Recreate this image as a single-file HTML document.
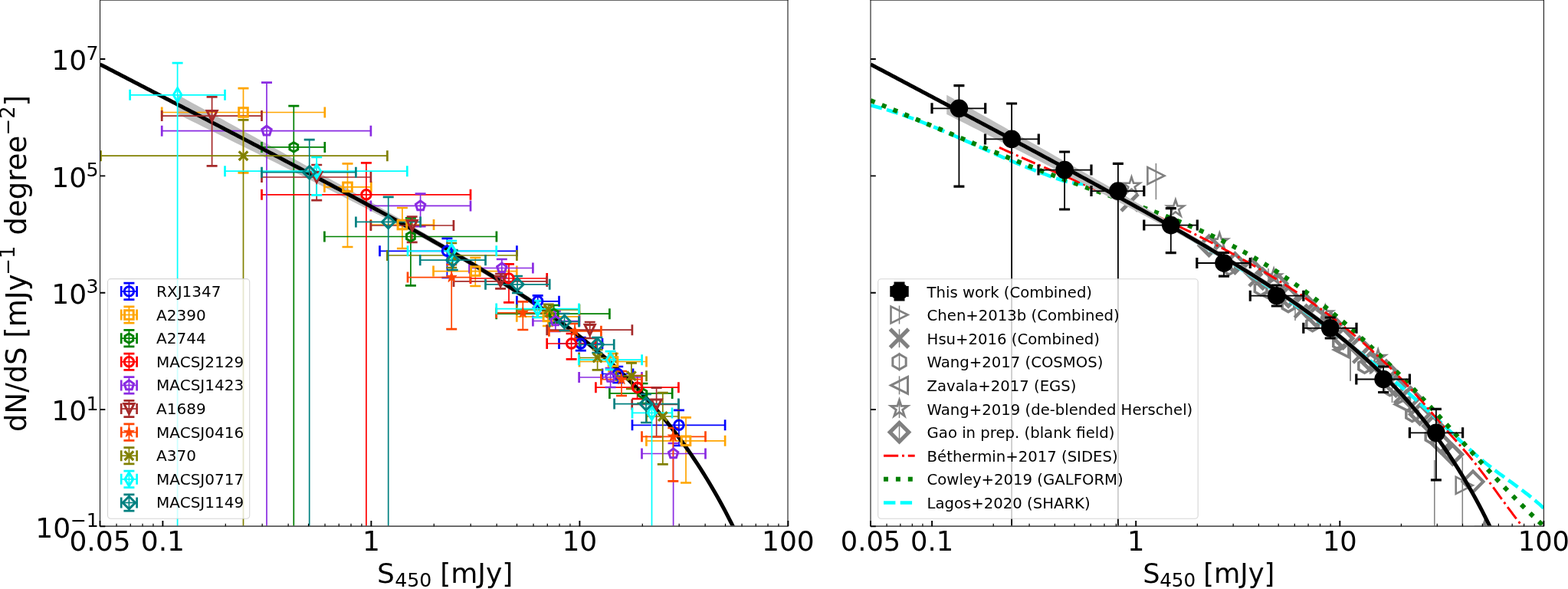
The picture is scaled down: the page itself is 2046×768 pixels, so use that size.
<!DOCTYPE html>
<html><head><meta charset="utf-8"><style>html,body{margin:0;padding:0;background:#fff;}svg{display:block}</style></head>
<body>
<svg width="2046" height="768" viewBox="0 0 2046 768" font-family="DejaVu Sans, Liberation Sans, sans-serif">
<rect width="2046" height="768" fill="#fff"/>
<defs><clipPath id="cl"><rect x="130.5" y="0.5" width="897.9" height="685"/></clipPath><clipPath id="cr"><rect x="1136" y="0.5" width="878.4" height="685"/></clipPath></defs>
<g clip-path="url(#cl)">
<path d="M231.93,123.78 L240.31,128.36 L248.69,132.93 L257.07,137.51 L265.44,142.1 L273.82,146.68 L282.2,151.27 L290.58,155.86 L298.95,160.46 L307.33,165.06 L315.71,169.66 L324.09,174.26 L332.47,178.87 L340.84,183.49 L349.22,188.11 L357.6,192.73 L365.98,197.36 L374.36,202 L382.73,206.64 L391.11,211.29 L399.49,215.94 L407.87,220.61 L416.24,225.28 L424.62,229.96 L433,234.66 L441.38,239.36 L449.76,244.07 L458.13,248.8 L466.51,253.54 L474.89,258.29 L483.27,263.06 L491.64,267.85 L500.02,272.65 L508.4,277.47 L516.78,282.31 L525.16,287.17 L533.53,292.06 L541.91,296.97 L550.29,301.91 L558.67,306.78 L567.05,311.55 L575.42,316.35 L583.8,321.19 L592.18,326.06 L600.56,330.98 L608.93,335.94 L617.31,340.94 L625.69,346 L634.07,351.11 L642.45,356.28 L650.82,361.51 L659.2,366.8 L667.58,372.17 L675.96,377.62 L684.34,383.15 L692.71,388.77 L701.09,394.48 L709.47,400.29 L717.85,406.22 L726.22,412.26 L734.6,418.43 L742.98,424.74 L751.36,431.19 L759.74,437.8 L768.11,444.58 L776.49,451.53 L784.87,458.68 L793.25,466.04 L801.62,473.63 L810,481.45 L818.38,489.53 L826.76,497.88 L835.14,506.53 L843.51,515.51 L851.89,524.82 L860.27,534.5 L868.65,544.57 L877.03,555.07 L885.4,566.02 L893.78,577.45 L893.78,585.05 L885.4,573.62 L877.03,562.67 L868.65,552.17 L860.27,542.1 L851.89,532.42 L843.51,523.11 L835.14,514.13 L826.76,505.48 L818.38,497.13 L810,489.05 L801.62,481.23 L793.25,473.64 L784.87,466.28 L776.49,459.13 L768.11,452.18 L759.74,445.4 L751.36,438.79 L742.98,432.34 L734.6,426.03 L726.22,419.86 L717.85,413.82 L709.47,407.89 L701.09,402.08 L692.71,396.37 L684.34,390.75 L675.96,385.22 L667.58,379.77 L659.2,374.4 L650.82,369.11 L642.45,363.88 L634.07,358.71 L625.69,353.6 L617.31,348.54 L608.93,343.54 L600.56,338.58 L592.18,333.66 L583.8,328.79 L575.42,323.95 L567.05,319.15 L558.67,314.38 L550.29,309.78 L541.91,305.3 L533.53,300.85 L525.16,296.42 L516.78,292.01 L508.4,287.63 L500.02,283.26 L491.64,278.92 L483.27,274.59 L474.89,270.27 L466.51,265.98 L458.13,261.69 L449.76,257.42 L441.38,253.16 L433,248.92 L424.62,244.68 L416.24,240.45 L407.87,236.24 L399.49,232.03 L391.11,227.83 L382.73,223.63 L374.36,219.45 L365.98,215.27 L357.6,211.09 L349.22,206.92 L340.84,202.76 L332.47,198.6 L324.09,194.45 L315.71,190.3 L307.33,186.15 L298.95,182.01 L290.58,177.87 L282.2,173.74 L273.82,169.6 L265.44,165.47 L257.07,161.35 L248.69,157.22 L240.31,153.1 L231.93,148.98 Z" fill="#bfbfbf"/>
<path d="M495.5,327.3 L674.4,327.3" stroke="#0000ff" stroke-width="1.7"/><path d="M583.4,310.9 L583.4,362" stroke="#0000ff" stroke-width="1.7"/><path d="M495.5,320.3 L495.5,334.3 M674.4,320.3 L674.4,334.3 M576.4,310.9 L590.4,310.9 M576.4,362 L590.4,362" stroke="#0000ff" stroke-width="2.7"/><path d="M674.4,392.8 L729.5,392.8" stroke="#0000ff" stroke-width="1.7"/><path d="M701.7,385.4 L701.7,401" stroke="#0000ff" stroke-width="1.7"/><path d="M674.4,385.8 L674.4,399.8 M729.5,385.8 L729.5,399.8 M694.7,385.4 L708.7,385.4 M694.7,401 L708.7,401" stroke="#0000ff" stroke-width="2.7"/><path d="M729.5,448 L786,448" stroke="#0000ff" stroke-width="1.7"/><path d="M757.8,440 L757.8,457.1" stroke="#0000ff" stroke-width="1.7"/><path d="M729.5,441 L729.5,455 M786,441 L786,455 M750.8,440 L764.8,440 M750.8,457.1 L764.8,457.1" stroke="#0000ff" stroke-width="2.7"/><path d="M786,487.5 L826,487.5" stroke="#0000ff" stroke-width="1.7"/><path d="M806.2,478 L806.2,499" stroke="#0000ff" stroke-width="1.7"/><path d="M786,480.5 L786,494.5 M826,480.5 L826,494.5 M799.2,478 L813.2,478 M799.2,499 L813.2,499" stroke="#0000ff" stroke-width="2.7"/><path d="M825,554.3 L946.1,554.3" stroke="#0000ff" stroke-width="1.7"/><path d="M885.9,534.8 L885.9,581" stroke="#0000ff" stroke-width="1.7"/><path d="M825,547.3 L825,561.3 M946.1,547.3 L946.1,561.3 M878.9,534.8 L892.9,534.8 M878.9,581 L892.9,581" stroke="#0000ff" stroke-width="2.7"/>
<path d="M211.2,146.5 L423.8,146.5" stroke="#ffa500" stroke-width="1.7"/><path d="M317.5,115.2 L317.5,225.4" stroke="#ffa500" stroke-width="1.7"/><path d="M211.2,139.5 L211.2,153.5 M423.8,139.5 L423.8,153.5 M310.5,115.2 L324.5,115.2 M310.5,225.4 L324.5,225.4" stroke="#ffa500" stroke-width="2.7"/><path d="M423.4,243.8 L484.3,243.8" stroke="#ffa500" stroke-width="1.7"/><path d="M453.5,213.4 L453.5,322" stroke="#ffa500" stroke-width="1.7"/><path d="M423.4,236.8 L423.4,250.8 M484.3,236.8 L484.3,250.8 M446.5,213.4 L460.5,213.4 M446.5,322 L460.5,322" stroke="#ffa500" stroke-width="2.7"/><path d="M483.9,293 L566,293" stroke="#ffa500" stroke-width="1.7"/><path d="M524.9,271 L524.9,324" stroke="#ffa500" stroke-width="1.7"/><path d="M483.9,286 L483.9,300 M566,286 L566,300 M517.9,271 L531.9,271 M517.9,324 L531.9,324" stroke="#ffa500" stroke-width="2.7"/><path d="M565.5,353.6 L674.3,353.6" stroke="#ffa500" stroke-width="1.7"/><path d="M620.3,336 L620.3,373" stroke="#ffa500" stroke-width="1.7"/><path d="M565.5,346.6 L565.5,360.6 M674.3,346.6 L674.3,360.6 M613.3,336 L627.3,336 M613.3,373 L627.3,373" stroke="#ffa500" stroke-width="2.7"/><path d="M674.3,412.8 L756,412.8" stroke="#ffa500" stroke-width="1.7"/><path d="M714.9,401 L714.9,425" stroke="#ffa500" stroke-width="1.7"/><path d="M674.3,405.8 L674.3,419.8 M756,405.8 L756,419.8 M707.9,401 L721.9,401 M707.9,425 L721.9,425" stroke="#ffa500" stroke-width="2.7"/><path d="M756,471.5 L843.5,471.5" stroke="#ffa500" stroke-width="1.7"/><path d="M800,461 L800,484" stroke="#ffa500" stroke-width="1.7"/><path d="M756,464.5 L756,478.5 M843.5,464.5 L843.5,478.5 M793,461 L807,461 M793,484 L807,484" stroke="#ffa500" stroke-width="2.7"/><path d="M843.4,574.8 L946.1,574.8" stroke="#ffa500" stroke-width="1.7"/><path d="M895,544.3 L895,629.5" stroke="#ffa500" stroke-width="1.7"/><path d="M843.4,567.8 L843.4,581.8 M946.1,567.8 L946.1,581.8 M888,544.3 L902,544.3 M888,629.5 L902,629.5" stroke="#ffa500" stroke-width="2.7"/>
<path d="M341.5,191.9 L423.8,191.9" stroke="#008000" stroke-width="1.7"/><path d="M383.3,138.1 L383.3,690" stroke="#008000" stroke-width="1.7"/><path d="M341.5,184.9 L341.5,198.9 M423.8,184.9 L423.8,198.9 M376.3,138.1 L390.3,138.1" stroke="#008000" stroke-width="2.7"/><path d="M423.4,308.5 L647.9,308.5" stroke="#008000" stroke-width="1.7"/><path d="M535.9,284.3 L535.9,372.3" stroke="#008000" stroke-width="1.7"/><path d="M423.4,301.5 L423.4,315.5 M647.9,301.5 L647.9,315.5 M528.9,284.3 L542.9,284.3 M528.9,372.3 L542.9,372.3" stroke="#008000" stroke-width="2.7"/><path d="M647.7,409.2 L795.4,409.2" stroke="#008000" stroke-width="1.7"/><path d="M722.7,398 L722.7,421" stroke="#008000" stroke-width="1.7"/><path d="M647.7,402.2 L647.7,416.2 M795.4,402.2 L795.4,416.2 M715.7,398 L729.7,398 M715.7,421 L729.7,421" stroke="#008000" stroke-width="2.7"/><path d="M795.4,512.9 L877.2,512.9" stroke="#008000" stroke-width="1.7"/><path d="M838.4,500 L838.4,526" stroke="#008000" stroke-width="1.7"/><path d="M795.4,505.9 L795.4,519.9 M877.2,505.9 L877.2,519.9 M831.4,500 L845.4,500 M831.4,526 L845.4,526" stroke="#008000" stroke-width="2.7"/>
<path d="M341.5,253.8 L614,253.8" stroke="#ff0000" stroke-width="1.7"/><path d="M477.9,212.3 L477.9,690" stroke="#ff0000" stroke-width="1.7"/><path d="M341.5,246.8 L341.5,260.8 M614,246.8 L614,260.8 M470.9,212.3 L484.9,212.3" stroke="#ff0000" stroke-width="2.7"/><path d="M614,363 L713.7,363" stroke="#ff0000" stroke-width="1.7"/><path d="M664,344.4 L664,394.3" stroke="#ff0000" stroke-width="1.7"/><path d="M614,356 L614,370 M713.7,356 L713.7,370 M657,344.4 L671,344.4 M657,394.3 L671,394.3" stroke="#ff0000" stroke-width="2.7"/><path d="M713.7,448 L777.4,448" stroke="#ff0000" stroke-width="1.7"/><path d="M745.6,435 L745.6,468.4" stroke="#ff0000" stroke-width="1.7"/><path d="M713.7,441 L713.7,455 M777.4,441 L777.4,455 M738.6,435 L752.6,435 M738.6,468.4 L752.6,468.4" stroke="#ff0000" stroke-width="2.7"/><path d="M777.4,505.2 L885.4,505.2" stroke="#ff0000" stroke-width="1.7"/><path d="M831.6,490 L831.6,520" stroke="#ff0000" stroke-width="1.7"/><path d="M777.4,498.2 L777.4,512.2 M885.4,498.2 L885.4,512.2 M824.6,490 L838.6,490 M824.6,520 L838.6,520" stroke="#ff0000" stroke-width="2.7"/>
<path d="M211.2,170.7 L483.9,170.7" stroke="#8a2be2" stroke-width="1.7"/><path d="M348,107.7 L348,690" stroke="#8a2be2" stroke-width="1.7"/><path d="M211.2,163.7 L211.2,177.7 M483.9,163.7 L483.9,177.7 M341,107.7 L355,107.7" stroke="#8a2be2" stroke-width="2.7"/><path d="M483.9,268.4 L614,268.4" stroke="#8a2be2" stroke-width="1.7"/><path d="M548.6,252.6 L548.6,295.2" stroke="#8a2be2" stroke-width="1.7"/><path d="M483.9,261.4 L483.9,275.4 M614,261.4 L614,275.4 M541.6,252.6 L555.6,252.6 M541.6,295.2 L555.6,295.2" stroke="#8a2be2" stroke-width="2.7"/><path d="M612.5,349.5 L695.4,349.5" stroke="#8a2be2" stroke-width="1.7"/><path d="M654.8,338 L654.8,362" stroke="#8a2be2" stroke-width="1.7"/><path d="M612.5,342.5 L612.5,356.5 M695.4,342.5 L695.4,356.5 M647.8,338 L661.8,338 M647.8,362 L661.8,362" stroke="#8a2be2" stroke-width="2.7"/><path d="M695.4,418.5 L756,418.5" stroke="#8a2be2" stroke-width="1.7"/><path d="M724.8,406 L724.8,432" stroke="#8a2be2" stroke-width="1.7"/><path d="M695.4,411.5 L695.4,425.5 M756,411.5 L756,425.5 M717.8,406 L731.8,406 M717.8,432 L731.8,432" stroke="#8a2be2" stroke-width="2.7"/><path d="M755.6,492 L837.5,492" stroke="#8a2be2" stroke-width="1.7"/><path d="M796.6,480 L796.6,505" stroke="#8a2be2" stroke-width="1.7"/><path d="M755.6,485 L755.6,499 M837.5,485 L837.5,499 M789.6,480 L803.6,480 M789.6,505 L803.6,505" stroke="#8a2be2" stroke-width="2.7"/><path d="M837.5,591.5 L920.5,591.5" stroke="#8a2be2" stroke-width="1.7"/><path d="M878.6,578 L878.6,690" stroke="#8a2be2" stroke-width="1.7"/><path d="M837.5,584.5 L837.5,598.5 M920.5,584.5 L920.5,598.5 M871.6,578 L885.6,578" stroke="#8a2be2" stroke-width="2.7"/>
<path d="M130.5,83.85 L134.6,85.97 L138.7,88.09 L142.8,90.21 L146.9,92.33 L151,94.45 L155.1,96.57 L159.2,98.7 L163.3,100.82 L167.4,102.94 L171.5,105.06 L175.6,107.18 L179.7,109.31 L183.8,111.43 L187.9,113.55 L192,115.68 L196.1,117.8 L200.2,119.92 L204.3,122.05 L208.4,124.17 L212.5,126.3 L216.6,128.42 L220.7,130.55 L224.8,132.68 L228.9,134.8 L233,136.93 L237.1,139.06 L241.2,141.19 L245.3,143.32 L249.4,145.45 L253.5,147.58 L257.6,149.71 L261.7,151.84 L265.8,153.97 L269.9,156.1 L274,158.24 L278.1,160.37 L282.2,162.5 L286.3,164.64 L290.4,166.77 L294.5,168.91 L298.6,171.05 L302.7,173.19 L306.8,175.32 L310.9,177.46 L315,179.61 L319.1,181.75 L323.2,183.89 L327.3,186.03 L331.4,188.18 L335.5,190.32 L339.6,192.47 L343.7,194.62 L347.8,196.77 L351.9,198.92 L356,201.07 L360.09,203.22 L364.19,205.38 L368.29,207.53 L372.39,209.69 L376.49,211.85 L380.59,214.01 L384.69,216.17 L388.79,218.33 L392.89,220.5 L396.99,222.67 L401.09,224.84 L405.19,227.01 L409.29,229.18 L413.39,231.35 L417.49,233.53 L421.59,235.71 L425.69,237.89 L429.79,240.08 L433.89,242.26 L437.99,244.45 L442.09,246.64 L446.19,248.84 L450.29,251.04 L454.39,253.24 L458.49,255.44 L462.59,257.65 L466.69,259.86 L470.79,262.07 L474.89,264.29 L478.99,266.51 L483.09,268.73 L487.19,270.96 L491.29,273.19 L495.39,275.42 L499.49,277.67 L503.59,279.91 L507.69,282.16 L511.79,284.41 L515.89,286.67 L519.99,288.94 L524.09,291.21 L528.19,293.48 L532.29,295.76 L536.39,298.05 L540.49,300.34 L544.59,302.64 L548.69,304.94 L552.79,307.26 L556.89,309.57 L560.99,311.9 L565.09,314.23 L569.19,316.58 L573.29,318.93 L577.39,321.28 L581.49,323.65 L585.59,326.03 L589.69,328.41 L593.79,330.8 L597.89,333.21 L601.99,335.62 L606.09,338.05 L610.19,340.48 L614.29,342.93 L618.39,345.39 L622.49,347.86 L626.59,350.34 L630.69,352.84 L634.79,355.35 L638.89,357.87 L642.99,360.41 L647.09,362.97 L651.19,365.54 L655.29,368.12 L659.39,370.72 L663.49,373.34 L667.59,375.98 L671.69,378.63 L675.79,381.31 L679.89,384 L683.99,386.72 L688.09,389.45 L692.19,392.21 L696.29,394.99 L700.39,397.79 L704.49,400.62 L708.59,403.48 L712.69,406.36 L716.79,409.26 L720.89,412.2 L724.99,415.16 L729.09,418.16 L733.19,421.18 L737.29,424.24 L741.39,427.33 L745.49,430.45 L749.59,433.61 L753.69,436.81 L757.79,440.05 L761.89,443.32 L765.99,446.64 L770.09,450 L774.19,453.4 L778.29,456.85 L782.39,460.34 L786.49,463.89 L790.59,467.48 L794.69,471.13 L798.79,474.83 L802.89,478.59 L806.99,482.4 L811.08,486.28 L815.18,490.21 L819.28,494.21 L823.38,498.28 L827.48,502.42 L831.58,506.63 L835.68,510.91 L839.78,515.27 L843.88,519.71 L847.98,524.23 L852.08,528.84 L856.18,533.53 L860.28,538.31 L864.38,543.19 L868.48,548.17 L872.58,553.25 L876.68,558.43 L880.78,563.72 L884.88,569.12 L888.98,574.64 L893.08,580.28 L897.18,586.05 L901.28,591.94 L905.38,597.97 L909.48,604.13 L913.58,610.44 L917.68,616.89 L921.78,623.5 L925.88,630.27 L929.98,637.2 L934.08,644.3 L938.18,651.58 L942.28,659.04 L946.38,666.69 L950.48,674.54 L954.58,682.58 L958.68,690.84 L962.78,699.31 L966.88,708.01" stroke="#000" stroke-width="5" fill="none"/>
<path d="M211.2,151.1 L341.5,151.1" stroke="#a52a2a" stroke-width="1.7"/><path d="M276.6,126.4 L276.6,216.3" stroke="#a52a2a" stroke-width="1.7"/><path d="M211.2,144.1 L211.2,158.1 M341.5,144.1 L341.5,158.1 M269.6,126.4 L283.6,126.4 M269.6,216.3 L283.6,216.3" stroke="#a52a2a" stroke-width="2.7"/><path d="M341.5,231 L483.9,231" stroke="#a52a2a" stroke-width="1.7"/><path d="M413.2,215 L413.2,261.1" stroke="#a52a2a" stroke-width="1.7"/><path d="M341.5,224 L341.5,238 M483.9,224 L483.9,238 M406.2,215 L420.2,215 M406.2,261.1 L420.2,261.1" stroke="#a52a2a" stroke-width="2.7"/><path d="M483.9,294 L591.9,294" stroke="#a52a2a" stroke-width="1.7"/><path d="M537.7,282.5 L537.7,315.8" stroke="#a52a2a" stroke-width="1.7"/><path d="M483.9,287 L483.9,301 M591.9,287 L591.9,301 M530.7,282.5 L544.7,282.5 M530.7,315.8 L544.7,315.8" stroke="#a52a2a" stroke-width="2.7"/><path d="M592,366.9 L713.7,366.9" stroke="#a52a2a" stroke-width="1.7"/><path d="M653.1,357 L653.1,376.3" stroke="#a52a2a" stroke-width="1.7"/><path d="M592,359.9 L592,373.9 M713.7,359.9 L713.7,373.9 M646.1,357 L660.1,357 M646.1,376.3 L660.1,376.3" stroke="#a52a2a" stroke-width="2.7"/><path d="M713.7,430.2 L824.9,430.2" stroke="#a52a2a" stroke-width="1.7"/><path d="M769.7,420 L769.7,441" stroke="#a52a2a" stroke-width="1.7"/><path d="M713.7,423.2 L713.7,437.2 M824.9,423.2 L824.9,437.2 M762.7,420 L776.7,420 M762.7,441 L776.7,441" stroke="#a52a2a" stroke-width="2.7"/><path d="M824.7,527.5 L885.4,527.5" stroke="#a52a2a" stroke-width="1.7"/><path d="M856.6,505.6 L856.6,569.5" stroke="#a52a2a" stroke-width="1.7"/><path d="M824.7,520.5 L824.7,534.5 M885.4,520.5 L885.4,534.5 M849.6,505.6 L863.6,505.6 M849.6,569.5 L863.6,569.5" stroke="#a52a2a" stroke-width="2.7"/>
<path d="M532,361.6 L613.8,361.6" stroke="#ff4500" stroke-width="1.7"/><path d="M589.2,345 L589.2,429.1" stroke="#ff4500" stroke-width="1.7"/><path d="M532,354.6 L532,368.6 M613.8,354.6 L613.8,368.6 M582.2,345 L596.2,345 M582.2,429.1 L596.2,429.1" stroke="#ff4500" stroke-width="2.7"/><path d="M647.7,407.8 L713.7,407.8" stroke="#ff4500" stroke-width="1.7"/><path d="M682.3,393.4 L682.3,430" stroke="#ff4500" stroke-width="1.7"/><path d="M647.7,400.8 L647.7,414.8 M713.7,400.8 L713.7,414.8 M675.3,393.4 L689.3,393.4 M675.3,430 L689.3,430" stroke="#ff4500" stroke-width="2.7"/><path d="M716.4,431.8 L784.4,431.8" stroke="#ff4500" stroke-width="1.7"/><path d="M750.1,422 L750.1,442" stroke="#ff4500" stroke-width="1.7"/><path d="M716.4,424.8 L716.4,438.8 M784.4,424.8 L784.4,438.8 M743.1,422 L757.1,422 M743.1,442 L757.1,442" stroke="#ff4500" stroke-width="2.7"/><path d="M784.4,494.7 L837.5,494.7" stroke="#ff4500" stroke-width="1.7"/><path d="M811,484 L811,516" stroke="#ff4500" stroke-width="1.7"/><path d="M784.4,487.7 L784.4,501.7 M837.5,487.7 L837.5,501.7 M804,484 L818,484 M804,516 L818,516" stroke="#ff4500" stroke-width="2.7"/><path d="M837.5,569.3 L920.5,569.3" stroke="#ff4500" stroke-width="1.7"/><path d="M878.3,558 L878.3,627.3" stroke="#ff4500" stroke-width="1.7"/><path d="M837.5,562.3 L837.5,576.3 M920.5,562.3 L920.5,576.3 M871.3,558 L885.3,558 M871.3,627.3 L885.3,627.3" stroke="#ff4500" stroke-width="2.7"/>
<path d="M131.5,203.2 L505.4,203.2" stroke="#808000" stroke-width="1.7"/><path d="M317.5,156.4 L317.5,690" stroke="#808000" stroke-width="1.7"/><path d="M131.5,196.2 L131.5,210.2 M505.4,196.2 L505.4,210.2 M310.5,156.4 L324.5,156.4" stroke="#808000" stroke-width="2.7"/><path d="M505.4,333 L674.4,333" stroke="#808000" stroke-width="1.7"/><path d="M589.2,317 L589.2,349" stroke="#808000" stroke-width="1.7"/><path d="M505.4,326 L505.4,340 M674.4,326 L674.4,340 M582.2,317 L596.2,317 M582.2,349 L596.2,349" stroke="#808000" stroke-width="2.7"/><path d="M674.3,403.8 L756,403.8" stroke="#808000" stroke-width="1.7"/><path d="M715.7,396.8 L715.7,412" stroke="#808000" stroke-width="1.7"/><path d="M674.3,396.8 L674.3,410.8 M756,396.8 L756,410.8 M708.7,396.8 L722.7,396.8 M708.7,412 L722.7,412" stroke="#808000" stroke-width="2.7"/><path d="M755.6,466.5 L804,466.5" stroke="#808000" stroke-width="1.7"/><path d="M779.6,456 L779.6,482.3" stroke="#808000" stroke-width="1.7"/><path d="M755.6,459.5 L755.6,473.5 M804,459.5 L804,473.5 M772.6,456 L786.6,456 M772.6,482.3 L786.6,482.3" stroke="#808000" stroke-width="2.7"/><path d="M804,490.2 L843.5,490.2" stroke="#808000" stroke-width="1.7"/><path d="M823.9,473.3 L823.9,507" stroke="#808000" stroke-width="1.7"/><path d="M804,483.2 L804,497.2 M843.5,483.2 L843.5,497.2 M816.9,473.3 L830.9,473.3 M816.9,507 L830.9,507" stroke="#808000" stroke-width="2.7"/><path d="M843.5,543 L885.4,543" stroke="#808000" stroke-width="1.7"/><path d="M864.8,512 L864.8,605.4" stroke="#808000" stroke-width="1.7"/><path d="M843.5,536 L843.5,550 M885.4,536 L885.4,550 M857.8,512 L871.8,512 M857.8,605.4 L871.8,605.4" stroke="#808000" stroke-width="2.7"/>
<path d="M169.6,123.8 L293.5,123.8" stroke="#00ffff" stroke-width="1.7"/><path d="M231.6,82.1 L231.6,690" stroke="#00ffff" stroke-width="1.7"/><path d="M169.6,116.8 L169.6,130.8 M293.5,116.8 L293.5,130.8 M224.6,82.1 L238.6,82.1" stroke="#00ffff" stroke-width="2.7"/><path d="M293.5,223.2 L531.3,223.2" stroke="#00ffff" stroke-width="1.7"/><path d="M413.2,205 L413.2,254.4" stroke="#00ffff" stroke-width="1.7"/><path d="M293.5,216.2 L293.5,230.2 M531.3,216.2 L531.3,230.2 M406.2,205 L420.2,205 M406.2,254.4 L420.2,254.4" stroke="#00ffff" stroke-width="2.7"/><path d="M532,327.3 L647.7,327.3" stroke="#00ffff" stroke-width="1.7"/><path d="M589.2,314 L589.2,340" stroke="#00ffff" stroke-width="1.7"/><path d="M532,320.3 L532,334.3 M647.7,320.3 L647.7,334.3 M582.2,314 L596.2,314 M582.2,340 L596.2,340" stroke="#00ffff" stroke-width="2.7"/><path d="M647.7,402.6 L755.5,402.6" stroke="#00ffff" stroke-width="1.7"/><path d="M701.4,392 L701.4,414" stroke="#00ffff" stroke-width="1.7"/><path d="M647.7,395.6 L647.7,409.6 M755.5,395.6 L755.5,409.6 M694.4,392 L708.4,392 M694.4,414 L708.4,414" stroke="#00ffff" stroke-width="2.7"/><path d="M755.3,469.2 L837.6,469.2" stroke="#00ffff" stroke-width="1.7"/><path d="M796.6,458.2 L796.6,481.9" stroke="#00ffff" stroke-width="1.7"/><path d="M755.3,462.2 L755.3,476.2 M837.6,462.2 L837.6,476.2 M789.6,458.2 L803.6,458.2 M789.6,481.9 L803.6,481.9" stroke="#00ffff" stroke-width="2.7"/><path d="M825,538.4 L877,538.4" stroke="#00ffff" stroke-width="1.7"/><path d="M850.5,527 L850.5,690" stroke="#00ffff" stroke-width="1.7"/><path d="M825,531.4 L825,545.4 M877,531.4 L877,545.4 M843.5,527 L857.5,527" stroke="#00ffff" stroke-width="2.7"/>
<path d="M341.5,224.7 L464.4,224.7" stroke="#008080" stroke-width="1.7"/><path d="M403.7,182.2 L403.7,690" stroke="#008080" stroke-width="1.7"/><path d="M341.5,217.7 L341.5,231.7 M464.4,217.7 L464.4,231.7 M396.7,182.2 L410.7,182.2" stroke="#008080" stroke-width="2.7"/><path d="M464.4,289.4 L548.6,289.4" stroke="#008080" stroke-width="1.7"/><path d="M506.7,256.9 L506.7,690" stroke="#008080" stroke-width="1.7"/><path d="M464.4,282.4 L464.4,296.4 M548.6,282.4 L548.6,296.4 M499.7,256.9 L513.7,256.9" stroke="#008080" stroke-width="2.7"/><path d="M548.2,339.2 L633.5,339.2" stroke="#008080" stroke-width="1.7"/><path d="M590.7,326 L590.7,352" stroke="#008080" stroke-width="1.7"/><path d="M548.2,332.2 L548.2,346.2 M633.5,332.2 L633.5,346.2 M583.7,326 L597.7,326 M583.7,352 L597.7,352" stroke="#008080" stroke-width="2.7"/><path d="M633.5,370.8 L717.2,370.8" stroke="#008080" stroke-width="1.7"/><path d="M675,360 L675,382" stroke="#008080" stroke-width="1.7"/><path d="M633.5,363.8 L633.5,377.8 M717.2,363.8 L717.2,377.8 M668,360 L682,360 M668,382 L682,382" stroke="#008080" stroke-width="2.7"/><path d="M717.2,419.5 L755.5,419.5" stroke="#008080" stroke-width="1.7"/><path d="M736.5,409 L736.5,431" stroke="#008080" stroke-width="1.7"/><path d="M717.2,412.5 L717.2,426.5 M755.5,412.5 L755.5,426.5 M729.5,409 L743.5,409 M729.5,431 L743.5,431" stroke="#008080" stroke-width="2.7"/><path d="M756,449.3 L801.2,449.3" stroke="#008080" stroke-width="1.7"/><path d="M779.3,440 L779.3,460" stroke="#008080" stroke-width="1.7"/><path d="M756,442.3 L756,456.3 M801.2,442.3 L801.2,456.3 M772.3,440 L786.3,440 M772.3,460 L786.3,460" stroke="#008080" stroke-width="2.7"/><path d="M801.6,526.6 L885.4,526.6" stroke="#008080" stroke-width="1.7"/><path d="M843,514 L843,551" stroke="#008080" stroke-width="1.7"/><path d="M801.6,519.6 L801.6,533.6 M885.4,519.6 L885.4,533.6 M836,514 L850,514 M836,551 L850,551" stroke="#008080" stroke-width="2.7"/>
<circle cx="583.4" cy="327.3" r="6.2" stroke="#0000ff" stroke-width="3" fill="none"/><circle cx="701.7" cy="392.8" r="6.2" stroke="#0000ff" stroke-width="3" fill="none"/><circle cx="757.8" cy="448" r="6.2" stroke="#0000ff" stroke-width="3" fill="none"/><circle cx="806.2" cy="487.5" r="6.2" stroke="#0000ff" stroke-width="3" fill="none"/><circle cx="885.9" cy="554.3" r="6.2" stroke="#0000ff" stroke-width="3" fill="none"/>
<rect x="311.7" y="140.7" width="11.6" height="11.6" stroke="#ffa500" stroke-width="3" fill="none"/><rect x="447.7" y="238" width="11.6" height="11.6" stroke="#ffa500" stroke-width="3" fill="none"/><rect x="519.1" y="287.2" width="11.6" height="11.6" stroke="#ffa500" stroke-width="3" fill="none"/><rect x="614.5" y="347.8" width="11.6" height="11.6" stroke="#ffa500" stroke-width="3" fill="none"/><rect x="709.1" y="407" width="11.6" height="11.6" stroke="#ffa500" stroke-width="3" fill="none"/><rect x="794.2" y="465.7" width="11.6" height="11.6" stroke="#ffa500" stroke-width="3" fill="none"/><rect x="889.2" y="569" width="11.6" height="11.6" stroke="#ffa500" stroke-width="3" fill="none"/>
<path d="M383.3,185.7 L388.67,188.8 L388.67,195 L383.3,198.1 L377.93,195 L377.93,188.8 Z" stroke="#008000" stroke-width="3" fill="none" stroke-miterlimit="10"/><path d="M535.9,302.3 L541.27,305.4 L541.27,311.6 L535.9,314.7 L530.53,311.6 L530.53,305.4 Z" stroke="#008000" stroke-width="3" fill="none" stroke-miterlimit="10"/><path d="M722.7,403 L728.07,406.1 L728.07,412.3 L722.7,415.4 L717.33,412.3 L717.33,406.1 Z" stroke="#008000" stroke-width="3" fill="none" stroke-miterlimit="10"/><path d="M838.4,506.7 L843.77,509.8 L843.77,516 L838.4,519.1 L833.03,516 L833.03,509.8 Z" stroke="#008000" stroke-width="3" fill="none" stroke-miterlimit="10"/>
<circle cx="477.9" cy="253.8" r="6.2" stroke="#ff0000" stroke-width="3" fill="none"/><circle cx="664" cy="363" r="6.2" stroke="#ff0000" stroke-width="3" fill="none"/><circle cx="745.6" cy="448" r="6.2" stroke="#ff0000" stroke-width="3" fill="none"/><circle cx="831.6" cy="505.2" r="6.2" stroke="#ff0000" stroke-width="3" fill="none"/>
<path d="M348,164.2 L354.18,168.69 L351.82,175.96 L344.18,175.96 L341.82,168.69 Z" stroke="#8a2be2" stroke-width="3" fill="none" stroke-miterlimit="10"/><path d="M548.6,261.9 L554.78,266.39 L552.42,273.66 L544.78,273.66 L542.42,266.39 Z" stroke="#8a2be2" stroke-width="3" fill="none" stroke-miterlimit="10"/><path d="M654.8,343 L660.98,347.49 L658.62,354.76 L650.98,354.76 L648.62,347.49 Z" stroke="#8a2be2" stroke-width="3" fill="none" stroke-miterlimit="10"/><path d="M724.8,412 L730.98,416.49 L728.62,423.76 L720.98,423.76 L718.62,416.49 Z" stroke="#8a2be2" stroke-width="3" fill="none" stroke-miterlimit="10"/><path d="M796.6,485.5 L802.78,489.99 L800.42,497.26 L792.78,497.26 L790.42,489.99 Z" stroke="#8a2be2" stroke-width="3" fill="none" stroke-miterlimit="10"/><path d="M878.6,585 L884.78,589.49 L882.42,596.76 L874.78,596.76 L872.42,589.49 Z" stroke="#8a2be2" stroke-width="3" fill="none" stroke-miterlimit="10"/>
<path d="M276.6,157.7 L270,144.5 L283.2,144.5 Z" stroke="#a52a2a" stroke-width="3" fill="none" stroke-miterlimit="10"/><path d="M413.2,237.6 L406.6,224.4 L419.8,224.4 Z" stroke="#a52a2a" stroke-width="3" fill="none" stroke-miterlimit="10"/><path d="M537.7,300.6 L531.1,287.4 L544.3,287.4 Z" stroke="#a52a2a" stroke-width="3" fill="none" stroke-miterlimit="10"/><path d="M653.1,373.5 L646.5,360.3 L659.7,360.3 Z" stroke="#a52a2a" stroke-width="3" fill="none" stroke-miterlimit="10"/><path d="M769.7,436.8 L763.1,423.6 L776.3,423.6 Z" stroke="#a52a2a" stroke-width="3" fill="none" stroke-miterlimit="10"/><path d="M856.6,534.1 L850,520.9 L863.2,520.9 Z" stroke="#a52a2a" stroke-width="3" fill="none" stroke-miterlimit="10"/>
<path d="M589.2,354.35 L590.83,359.36 L596.1,359.36 L591.83,362.46 L593.46,367.47 L589.2,364.37 L584.94,367.47 L586.57,362.46 L582.3,359.36 L587.57,359.36 Z" stroke="#ff4500" stroke-width="1" fill="#ff4500" stroke-miterlimit="10"/><path d="M682.3,400.55 L683.93,405.56 L689.2,405.56 L684.93,408.66 L686.56,413.67 L682.3,410.57 L678.04,413.67 L679.67,408.66 L675.4,405.56 L680.67,405.56 Z" stroke="#ff4500" stroke-width="1" fill="#ff4500" stroke-miterlimit="10"/><path d="M750.1,424.55 L751.73,429.56 L757,429.56 L752.73,432.66 L754.36,437.67 L750.1,434.57 L745.84,437.67 L747.47,432.66 L743.2,429.56 L748.47,429.56 Z" stroke="#ff4500" stroke-width="1" fill="#ff4500" stroke-miterlimit="10"/><path d="M811,487.45 L812.63,492.46 L817.9,492.46 L813.63,495.56 L815.26,500.57 L811,497.47 L806.74,500.57 L808.37,495.56 L804.1,492.46 L809.37,492.46 Z" stroke="#ff4500" stroke-width="1" fill="#ff4500" stroke-miterlimit="10"/><path d="M878.3,562.05 L879.93,567.06 L885.2,567.06 L880.93,570.16 L882.56,575.17 L878.3,572.07 L874.04,575.17 L875.67,570.16 L871.4,567.06 L876.67,567.06 Z" stroke="#ff4500" stroke-width="1" fill="#ff4500" stroke-miterlimit="10"/>
<path d="M311.7,197.4 L323.3,209 M311.7,209 L323.3,197.4" stroke="#808000" stroke-width="3.3" fill="none"/><path d="M583.4,327.2 L595,338.8 M583.4,338.8 L595,327.2" stroke="#808000" stroke-width="3.3" fill="none"/><path d="M709.9,398 L721.5,409.6 M709.9,409.6 L721.5,398" stroke="#808000" stroke-width="3.3" fill="none"/><path d="M773.8,460.7 L785.4,472.3 M773.8,472.3 L785.4,460.7" stroke="#808000" stroke-width="3.3" fill="none"/><path d="M818.1,484.4 L829.7,496 M818.1,496 L829.7,484.4" stroke="#808000" stroke-width="3.3" fill="none"/><path d="M859,537.2 L870.6,548.8 M859,548.8 L870.6,537.2" stroke="#808000" stroke-width="3.3" fill="none"/>
<path d="M231.6,114.89 L236.94,123.8 L231.6,132.71 L226.26,123.8 Z" stroke="#00ffff" stroke-width="3" fill="none" stroke-miterlimit="10"/><path d="M413.2,214.29 L418.54,223.2 L413.2,232.11 L407.86,223.2 Z" stroke="#00ffff" stroke-width="3" fill="none" stroke-miterlimit="10"/><path d="M589.2,318.39 L594.54,327.3 L589.2,336.21 L583.86,327.3 Z" stroke="#00ffff" stroke-width="3" fill="none" stroke-miterlimit="10"/><path d="M701.4,393.69 L706.74,402.6 L701.4,411.51 L696.06,402.6 Z" stroke="#00ffff" stroke-width="3" fill="none" stroke-miterlimit="10"/><path d="M796.6,460.29 L801.94,469.2 L796.6,478.11 L791.26,469.2 Z" stroke="#00ffff" stroke-width="3" fill="none" stroke-miterlimit="10"/><path d="M850.5,529.49 L855.84,538.4 L850.5,547.31 L845.16,538.4 Z" stroke="#00ffff" stroke-width="3" fill="none" stroke-miterlimit="10"/>
<path d="M403.7,216.5 L411.9,224.7 L403.7,232.9 L395.5,224.7 Z" stroke="#008080" stroke-width="3" fill="none" stroke-miterlimit="10"/><path d="M506.7,281.2 L514.9,289.4 L506.7,297.6 L498.5,289.4 Z" stroke="#008080" stroke-width="3" fill="none" stroke-miterlimit="10"/><path d="M590.7,331 L598.9,339.2 L590.7,347.4 L582.5,339.2 Z" stroke="#008080" stroke-width="3" fill="none" stroke-miterlimit="10"/><path d="M675,362.6 L683.2,370.8 L675,379 L666.8,370.8 Z" stroke="#008080" stroke-width="3" fill="none" stroke-miterlimit="10"/><path d="M736.5,411.3 L744.7,419.5 L736.5,427.7 L728.3,419.5 Z" stroke="#008080" stroke-width="3" fill="none" stroke-miterlimit="10"/><path d="M779.3,441.1 L787.5,449.3 L779.3,457.5 L771.1,449.3 Z" stroke="#008080" stroke-width="3" fill="none" stroke-miterlimit="10"/><path d="M843,518.4 L851.2,526.6 L843,534.8 L834.8,526.6 Z" stroke="#008080" stroke-width="3" fill="none" stroke-miterlimit="10"/>
</g>
<g clip-path="url(#cr)">
<path d="M1508.4,213.1 L1508.4,260.2" stroke="#808080" stroke-width="1.5"/><path d="M1908.3,596.3 L1908.3,690" stroke="#808080" stroke-width="1.5"/><path d="M1871.8,600 L1871.8,690" stroke="#808080" stroke-width="1.5"/><path d="M1762,455 L1762,496" stroke="#808080" stroke-width="1.5"/><path d="M1787.7,470 L1787.7,488" stroke="#808080" stroke-width="1.5"/><path d="M1816.5,500 L1816.5,525" stroke="#808080" stroke-width="1.5"/><path d="M1690,388 L1690,418" stroke="#808080" stroke-width="1.5"/><path d="M1655,350 L1655,372" stroke="#808080" stroke-width="1.5"/><path d="M1519.4,229.2 L1497.4,218.2 L1497.4,240.2 Z" stroke="#808080" stroke-width="2.6" fill="none" stroke-miterlimit="10"/><path d="M1921.7,632.8 L1899.7,621.8 L1899.7,643.8 Z" stroke="#808080" stroke-width="2.6" fill="none" stroke-miterlimit="10"/><path d="M1922,614.57 L1935.43,628 L1922,641.43 L1908.57,628 Z" stroke="#808080" stroke-width="4.2" fill="none" stroke-miterlimit="10"/><path d="M1937,680 L1939.25,686.91 L1946.51,686.91 L1940.63,691.18 L1942.88,698.09 L1937,693.82 L1931.12,698.09 L1933.37,691.18 L1927.49,686.91 L1934.75,686.91 Z" stroke="#808080" stroke-width="2.6" fill="none" stroke-miterlimit="10"/><path d="M1476.5,230.8 L1479.08,238.75 L1487.44,238.75 L1480.68,243.66 L1483.26,251.6 L1476.5,246.69 L1469.74,251.6 L1472.32,243.66 L1465.56,238.75 L1473.92,238.75 Z" stroke="#808080" stroke-width="2.6" fill="none" stroke-miterlimit="10"/><path d="M1533.9,260.5 L1536.48,268.45 L1544.84,268.45 L1538.08,273.36 L1540.66,281.3 L1533.9,276.39 L1527.14,281.3 L1529.72,273.36 L1522.96,268.45 L1531.32,268.45 Z" stroke="#808080" stroke-width="2.6" fill="none" stroke-miterlimit="10"/><path d="M1591.3,303.7 L1593.88,311.65 L1602.24,311.65 L1595.48,316.56 L1598.06,324.5 L1591.3,319.59 L1584.54,324.5 L1587.12,316.56 L1580.36,311.65 L1588.72,311.65 Z" stroke="#808080" stroke-width="2.6" fill="none" stroke-miterlimit="10"/><path d="M1463,253 L1485,275 M1463,275 L1485,253" stroke="#808080" stroke-width="5" fill="none"/><path d="M1603.83,339.97 L1611.63,344.47 L1611.63,353.47 L1603.83,357.97 L1596.04,353.47 L1596.04,344.47 Z" stroke="#808080" stroke-width="3.5" fill="none" stroke-miterlimit="10"/><path d="M1645.11,367.06 L1652.9,371.56 L1652.9,380.56 L1645.11,385.06 L1637.32,380.56 L1637.32,371.56 Z" stroke="#808080" stroke-width="3.5" fill="none" stroke-miterlimit="10"/><path d="M1681.03,388.62 L1688.82,393.12 L1688.82,402.12 L1681.03,406.62 L1673.23,402.12 L1673.23,393.12 Z" stroke="#808080" stroke-width="3.5" fill="none" stroke-miterlimit="10"/><path d="M1712.63,413.69 L1720.42,418.19 L1720.42,427.19 L1712.63,431.69 L1704.84,427.19 L1704.84,418.19 Z" stroke="#808080" stroke-width="3.5" fill="none" stroke-miterlimit="10"/><path d="M1747.57,438.36 L1755.36,442.86 L1755.36,451.86 L1747.57,456.36 L1739.78,451.86 L1739.78,442.86 Z" stroke="#808080" stroke-width="3.5" fill="none" stroke-miterlimit="10"/><path d="M1780.59,468.23 L1788.39,472.73 L1788.39,481.73 L1780.59,486.23 L1772.8,481.73 L1772.8,472.73 Z" stroke="#808080" stroke-width="3.5" fill="none" stroke-miterlimit="10"/><path d="M1813.67,497.72 L1821.47,502.22 L1821.47,511.22 L1813.67,515.72 L1805.88,511.22 L1805.88,502.22 Z" stroke="#808080" stroke-width="3.5" fill="none" stroke-miterlimit="10"/><path d="M1842.64,531.47 L1850.43,535.97 L1850.43,544.97 L1842.64,549.47 L1834.84,544.97 L1834.84,535.97 Z" stroke="#808080" stroke-width="3.5" fill="none" stroke-miterlimit="10"/><path d="M1867.99,560.37 L1875.78,564.87 L1875.78,573.87 L1867.99,578.37 L1860.19,573.87 L1860.19,564.87 Z" stroke="#808080" stroke-width="3.5" fill="none" stroke-miterlimit="10"/><path d="M1646.99,384.69 L1665.99,375.19 L1665.99,394.19 Z" stroke="#808080" stroke-width="3.5" fill="none" stroke-miterlimit="10"/><path d="M1740.82,456.11 L1759.82,446.61 L1759.82,465.61 Z" stroke="#808080" stroke-width="3.5" fill="none" stroke-miterlimit="10"/><path d="M1820.51,527.36 L1839.51,517.86 L1839.51,536.86 Z" stroke="#808080" stroke-width="3.5" fill="none" stroke-miterlimit="10"/><path d="M1762,455 L1762,497" stroke="#808080" stroke-width="1.5"/><path d="M1577.53,307.98 L1589.9,320.35 L1577.53,332.73 L1565.15,320.35 Z" stroke="#808080" stroke-width="5" fill="none" stroke-miterlimit="10"/><path d="M1611.52,330.75 L1623.89,343.12 L1611.52,355.49 L1599.15,343.12 Z" stroke="#808080" stroke-width="5" fill="none" stroke-miterlimit="10"/><path d="M1633.19,338.3 L1645.56,350.68 L1633.19,363.05 L1620.82,350.68 Z" stroke="#808080" stroke-width="5" fill="none" stroke-miterlimit="10"/><path d="M1647.62,351.03 L1660,363.4 L1647.62,375.77 L1635.25,363.4 Z" stroke="#808080" stroke-width="5" fill="none" stroke-miterlimit="10"/><path d="M1666.41,357.3 L1678.78,369.67 L1666.41,382.05 L1654.04,369.67 Z" stroke="#808080" stroke-width="5" fill="none" stroke-miterlimit="10"/><path d="M1681.13,374.41 L1693.5,386.78 L1681.13,399.15 L1668.76,386.78 Z" stroke="#808080" stroke-width="5" fill="none" stroke-miterlimit="10"/><path d="M1702.05,382.87 L1714.42,395.24 L1702.05,407.61 L1689.68,395.24 Z" stroke="#808080" stroke-width="5" fill="none" stroke-miterlimit="10"/><path d="M1717.19,400 L1729.56,412.37 L1717.19,424.75 L1704.82,412.37 Z" stroke="#808080" stroke-width="5" fill="none" stroke-miterlimit="10"/><path d="M1737.68,410.5 L1750.05,422.87 L1737.68,435.24 L1725.3,422.87 Z" stroke="#808080" stroke-width="5" fill="none" stroke-miterlimit="10"/><path d="M1752.63,428.79 L1765.01,441.16 L1752.63,453.53 L1740.26,441.16 Z" stroke="#808080" stroke-width="5" fill="none" stroke-miterlimit="10"/><path d="M1773.93,440.17 L1786.3,452.54 L1773.93,464.91 L1761.56,452.54 Z" stroke="#808080" stroke-width="5" fill="none" stroke-miterlimit="10"/><path d="M1789.36,459.33 L1801.73,471.7 L1789.36,484.07 L1776.98,471.7 Z" stroke="#808080" stroke-width="5" fill="none" stroke-miterlimit="10"/><path d="M1808.91,471.04 L1821.28,483.41 L1808.91,495.78 L1796.53,483.41 Z" stroke="#808080" stroke-width="5" fill="none" stroke-miterlimit="10"/><path d="M1821.45,490.9 L1833.82,503.27 L1821.45,515.64 L1809.08,503.27 Z" stroke="#808080" stroke-width="5" fill="none" stroke-miterlimit="10"/><path d="M1840.49,505.7 L1852.86,518.07 L1840.49,530.45 L1828.12,518.07 Z" stroke="#808080" stroke-width="5" fill="none" stroke-miterlimit="10"/><path d="M1852.77,527.78 L1865.15,540.16 L1852.77,552.53 L1840.4,540.16 Z" stroke="#808080" stroke-width="5" fill="none" stroke-miterlimit="10"/><path d="M1869.97,543.02 L1882.34,555.39 L1869.97,567.76 L1857.6,555.39 Z" stroke="#808080" stroke-width="5" fill="none" stroke-miterlimit="10"/><path d="M1880,565.02 L1892.37,577.4 L1880,589.77 L1867.63,577.4 Z" stroke="#808080" stroke-width="5" fill="none" stroke-miterlimit="10"/><path d="M1895.33,580.24 L1907.7,592.61 L1895.33,604.99 L1882.96,592.61 Z" stroke="#808080" stroke-width="5" fill="none" stroke-miterlimit="10"/><path d="M1662.1,350.37 L1664.46,357.62 L1672.09,357.62 L1665.92,362.11 L1668.28,369.36 L1662.1,364.88 L1655.93,369.36 L1658.29,362.11 L1652.12,357.62 L1659.75,357.62 Z" stroke="#808080" stroke-width="2.6" fill="none" stroke-miterlimit="10"/><path d="M1729.21,398.36 L1731.56,405.61 L1739.19,405.61 L1733.02,410.1 L1735.38,417.35 L1729.21,412.87 L1723.03,417.35 L1725.39,410.1 L1719.22,405.61 L1726.85,405.61 Z" stroke="#808080" stroke-width="2.6" fill="none" stroke-miterlimit="10"/><path d="M1798.17,455.74 L1800.53,462.99 L1808.16,462.99 L1801.99,467.48 L1804.35,474.73 L1798.17,470.25 L1792,474.73 L1794.36,467.48 L1788.19,462.99 L1795.82,462.99 Z" stroke="#808080" stroke-width="2.6" fill="none" stroke-miterlimit="10"/><path d="M1629.89,356.11 L1646.89,373.11 M1629.89,373.11 L1646.89,356.11" stroke="#808080" stroke-width="4.5" fill="none"/><path d="M1689.18,397.13 L1706.18,414.13 M1689.18,414.13 L1706.18,397.13" stroke="#808080" stroke-width="4.5" fill="none"/><path d="M1765.51,456.08 L1782.51,473.08 M1765.51,473.08 L1782.51,456.08" stroke="#808080" stroke-width="4.5" fill="none"/><path d="M1819.28,508.9 L1836.28,525.9 M1819.28,525.9 L1836.28,508.9" stroke="#808080" stroke-width="4.5" fill="none"/>
<path d="M1136,137.44 L1139.68,138.33 L1143.36,139.27 L1147.05,140.25 L1150.73,141.27 L1154.41,142.32 L1158.09,143.41 L1161.77,144.54 L1165.46,145.7 L1169.14,146.89 L1172.82,148.12 L1176.5,149.37 L1180.18,150.65 L1183.87,151.97 L1187.55,153.31 L1191.23,154.67 L1194.91,156.06 L1198.59,157.48 L1202.28,158.91 L1205.96,160.37 L1209.64,161.85 L1213.32,163.35 L1217,164.86 L1220.69,166.4 L1224.37,167.95 L1228.05,169.51 L1231.73,171.09 L1235.41,172.67 L1239.1,174.27 L1242.78,175.88 L1246.46,177.5 L1250.14,179.13 L1253.82,180.76 L1257.51,182.4 L1261.19,184.05 L1264.87,185.69 L1268.55,187.34 L1272.23,188.99 L1275.92,190.64 L1279.6,192.29 L1283.28,193.93 L1286.96,195.58 L1290.64,197.21 L1294.33,198.84 L1298.01,200.47 L1301.69,202.08 L1305.37,203.69 L1309.05,205.29 L1312.74,206.87 L1316.42,208.44 L1320.1,210 L1323.78,211.54 L1327.46,213.07 L1331.15,214.58 L1334.83,216.07 L1338.51,217.54 L1342.19,219 L1345.87,220.44 L1349.56,221.87 L1353.24,223.28 L1356.92,224.68 L1360.6,226.08 L1364.28,227.47 L1367.97,228.85 L1371.65,230.22 L1375.33,231.55 L1379.01,232.83 L1382.69,234.04 L1386.38,235.17 L1390.06,236.2 L1393.74,237.11 L1397.42,237.88 L1401.1,238.53 L1404.79,239.07 L1408.47,239.57 L1412.15,240.05 L1415.83,240.55 L1419.51,241.12 L1423.2,241.8 L1426.88,242.62 L1430.56,243.63 L1434.24,244.85 L1437.92,246.26 L1441.61,247.84 L1445.29,249.56 L1448.97,251.38 L1452.65,253.29 L1456.33,255.27 L1460.02,257.27 L1463.7,259.29 L1467.38,261.31 L1471.06,263.35 L1474.74,265.39 L1478.43,267.43 L1482.11,269.49 L1485.79,271.55 L1489.47,273.61 L1493.15,275.69 L1496.84,277.77 L1500.52,279.86 L1504.2,281.95 L1507.88,284.06 L1511.56,286.16 L1515.25,288.28 L1518.93,290.4 L1522.61,292.53 L1526.29,294.67 L1529.97,296.81 L1533.66,298.96 L1537.34,301.11 L1541.02,303.27 L1544.7,305.44 L1548.38,307.61 L1552.07,309.79 L1555.75,311.98 L1559.43,314.17 L1563.11,316.37 L1566.79,318.57 L1570.48,320.79 L1574.16,323 L1577.84,325.23 L1581.52,327.46 L1585.21,329.7 L1588.89,331.95 L1592.57,334.2 L1596.25,336.46 L1599.93,338.73 L1603.62,341.01 L1607.3,343.3 L1610.98,345.6 L1614.66,347.9 L1618.34,350.22 L1622.03,352.54 L1625.71,354.88 L1629.39,357.22 L1633.07,359.57 L1636.75,361.94 L1640.44,364.31 L1644.12,366.7 L1647.8,369.09 L1651.48,371.5 L1655.16,373.92 L1658.85,376.35 L1662.53,378.79 L1666.21,381.24 L1669.89,383.71 L1673.57,386.18 L1677.26,388.67 L1680.94,391.18 L1684.62,393.69 L1688.3,396.22 L1691.98,398.77 L1695.67,401.32 L1699.35,403.89 L1703.03,406.48 L1706.71,409.07 L1710.39,411.69 L1714.08,414.31 L1717.76,416.96 L1721.44,419.61 L1725.12,422.29 L1728.8,424.98 L1732.49,427.68 L1736.17,430.4 L1739.85,433.13 L1743.53,435.89 L1747.21,438.66 L1750.9,441.44 L1754.58,444.24 L1758.26,447.06 L1761.94,449.9 L1765.62,452.75 L1769.31,455.63 L1772.99,458.52 L1776.67,461.42 L1780.35,464.35 L1784.03,467.3 L1787.72,470.26 L1791.4,473.24 L1795.08,476.25 L1798.76,479.27 L1802.44,482.31 L1806.13,485.37 L1809.81,488.45 L1813.49,491.55 L1817.17,494.67 L1820.85,497.81 L1824.54,500.97 L1828.22,504.14 L1831.9,507.34 L1835.58,510.56 L1839.26,513.79 L1842.95,517.05 L1846.63,520.32 L1850.31,523.62 L1853.99,526.93 L1857.67,530.26 L1861.36,533.62 L1865.04,536.99 L1868.72,540.38 L1872.4,543.79 L1876.08,547.22 L1879.77,550.67 L1883.45,554.13 L1887.13,557.6 L1890.81,561.07 L1894.49,564.54 L1898.18,567.99 L1901.86,571.44 L1905.54,574.86 L1909.22,578.26 L1912.9,581.63 L1916.59,584.97 L1920.27,588.26 L1923.95,591.51 L1927.63,594.7 L1931.31,597.84 L1935,600.91 L1938.68,603.92 L1942.36,606.85 L1946.04,609.72 L1949.72,612.53 L1953.41,615.29 L1957.09,618.01 L1960.77,620.7 L1964.45,623.37 L1968.13,626.03 L1971.82,628.7 L1975.5,631.37 L1979.18,634.06 L1982.86,636.77 L1986.54,639.53 L1990.23,642.33 L1993.91,645.19 L1997.59,648.11 L2001.27,651.11 L2004.95,654.2 L2008.64,657.38 L2012.32,660.66 L2016,664.06" stroke="#00ffff" stroke-width="4.6" fill="none" stroke-dasharray="15.4 6.3"/>
<path d="M1136,131.06 L1139.68,132.54 L1143.36,134.02 L1147.05,135.51 L1150.73,137 L1154.41,138.5 L1158.09,140.01 L1161.77,141.51 L1165.46,143.02 L1169.14,144.54 L1172.82,146.06 L1176.5,147.58 L1180.18,149.11 L1183.87,150.64 L1187.55,152.17 L1191.23,153.7 L1194.91,155.24 L1198.59,156.78 L1202.28,158.32 L1205.96,159.86 L1209.64,161.4 L1213.32,162.95 L1217,164.49 L1220.69,166.04 L1224.37,167.59 L1228.05,169.13 L1231.73,170.68 L1235.41,172.23 L1239.1,173.78 L1242.78,175.32 L1246.46,176.87 L1250.14,178.42 L1253.82,179.96 L1257.51,181.51 L1261.19,183.05 L1264.87,184.59 L1268.55,186.13 L1272.23,187.66 L1275.92,189.2 L1279.6,190.73 L1283.28,192.26 L1286.96,193.78 L1290.64,195.31 L1294.33,196.83 L1298.01,198.34 L1301.69,199.85 L1305.37,201.36 L1309.05,202.86 L1312.74,204.36 L1316.42,205.86 L1320.1,207.35 L1323.78,208.83 L1327.46,210.31 L1331.15,211.78 L1334.83,213.25 L1338.51,214.71 L1342.19,216.17 L1345.87,217.62 L1349.56,219.06 L1353.24,220.5 L1356.92,221.93 L1360.6,223.35 L1364.28,224.76 L1367.97,226.17 L1371.65,227.57 L1375.33,228.96 L1379.01,230.34 L1382.69,231.72 L1386.38,233.08 L1390.06,234.44 L1393.74,235.79 L1397.42,237.13 L1401.1,238.46 L1404.79,239.79 L1408.47,241.11 L1412.15,242.43 L1415.83,243.74 L1419.51,245.05 L1423.2,246.35 L1426.88,247.65 L1430.56,248.95 L1434.24,250.25 L1437.92,251.55 L1441.61,252.84 L1445.29,254.14 L1448.97,255.43 L1452.65,256.73 L1456.33,258.03 L1460.02,259.33 L1463.7,260.63 L1467.38,261.94 L1471.06,263.25 L1474.74,264.57 L1478.43,265.89 L1482.11,267.22 L1485.79,268.56 L1489.47,269.9 L1493.15,271.25 L1496.84,272.61 L1500.52,273.97 L1504.2,275.35 L1507.88,276.74 L1511.56,278.13 L1515.25,279.54 L1518.93,280.96 L1522.61,282.39 L1526.29,283.84 L1529.97,285.3 L1533.66,286.77 L1537.34,288.26 L1541.02,289.77 L1544.7,291.29 L1548.38,292.82 L1552.07,294.38 L1555.75,295.95 L1559.43,297.54 L1563.11,299.15 L1566.79,300.78 L1570.48,302.42 L1574.16,304.09 L1577.84,305.78 L1581.52,307.5 L1585.21,309.23 L1588.89,310.99 L1592.57,312.77 L1596.25,314.58 L1599.93,316.41 L1603.62,318.26 L1607.3,320.15 L1610.98,322.06 L1614.66,323.99 L1618.34,325.96 L1622.03,327.95 L1625.71,329.97 L1629.39,332.02 L1633.07,334.1 L1636.75,336.22 L1640.44,338.36 L1644.12,340.53 L1647.8,342.74 L1651.48,344.98 L1655.16,347.26 L1658.85,349.57 L1662.53,351.91 L1666.21,354.29 L1669.89,356.71 L1673.57,359.16 L1677.26,361.64 L1680.94,364.16 L1684.62,366.71 L1688.3,369.3 L1691.98,371.91 L1695.67,374.57 L1699.35,377.25 L1703.03,379.97 L1706.71,382.73 L1710.39,385.51 L1714.08,388.33 L1717.76,391.18 L1721.44,394.06 L1725.12,396.97 L1728.8,399.92 L1732.49,402.89 L1736.17,405.9 L1739.85,408.94 L1743.53,412.01 L1747.21,415.11 L1750.9,418.24 L1754.58,421.4 L1758.26,424.58 L1761.94,427.8 L1765.62,431.05 L1769.31,434.33 L1772.99,437.63 L1776.67,440.97 L1780.35,444.33 L1784.03,447.72 L1787.72,451.14 L1791.4,454.59 L1795.08,458.06 L1798.76,461.57 L1802.44,465.1 L1806.13,468.65 L1809.81,472.23 L1813.49,475.84 L1817.17,479.48 L1820.85,483.14 L1824.54,486.83 L1828.22,490.54 L1831.9,494.28 L1835.58,498.04 L1839.26,501.83 L1842.95,505.65 L1846.63,509.48 L1850.31,513.35 L1853.99,517.23 L1857.67,521.14 L1861.36,525.06 L1865.04,529 L1868.72,532.96 L1872.4,536.94 L1876.08,540.92 L1879.77,544.92 L1883.45,548.93 L1887.13,552.95 L1890.81,556.98 L1894.49,561.01 L1898.18,565.04 L1901.86,569.08 L1905.54,573.12 L1909.22,577.17 L1912.9,581.2 L1916.59,585.24 L1920.27,589.27 L1923.95,593.3 L1927.63,597.32 L1931.31,601.32 L1935,605.32 L1938.68,609.31 L1942.36,613.28 L1946.04,617.24 L1949.72,621.18 L1953.41,625.11 L1957.09,629.01 L1960.77,632.89 L1964.45,636.75 L1968.13,640.59 L1971.82,644.4 L1975.5,648.18 L1979.18,651.94 L1982.86,655.66 L1986.54,659.36 L1990.23,663.02 L1993.91,666.65 L1997.59,670.24 L2001.27,673.79 L2004.95,677.3 L2008.64,680.78 L2012.32,684.21 L2016,687.6" stroke="#008000" stroke-width="6" fill="none" stroke-dasharray="6 9.9"/>
<path d="M1304,192.38 L1306.89,193.69 L1309.78,195 L1312.67,196.3 L1315.56,197.6 L1318.46,198.89 L1321.35,200.18 L1324.24,201.47 L1327.13,202.75 L1330.02,204.03 L1332.91,205.3 L1335.8,206.57 L1338.69,207.84 L1341.59,209.11 L1344.48,210.37 L1347.37,211.63 L1350.26,212.88 L1353.15,214.14 L1356.04,215.39 L1358.93,216.63 L1361.82,217.88 L1364.72,219.13 L1367.61,220.37 L1370.5,221.61 L1373.39,222.85 L1376.28,224.08 L1379.17,225.32 L1382.06,226.55 L1384.95,227.79 L1387.85,229.02 L1390.74,230.25 L1393.63,231.48 L1396.52,232.71 L1399.41,233.94 L1402.3,235.17 L1405.19,236.4 L1408.08,237.63 L1410.97,238.86 L1413.87,240.09 L1416.76,241.32 L1419.65,242.56 L1422.54,243.79 L1425.43,245.02 L1428.32,246.25 L1431.21,247.49 L1434.1,248.73 L1437,249.96 L1439.89,251.2 L1442.78,252.44 L1445.67,253.69 L1448.56,254.93 L1451.45,256.18 L1454.34,257.43 L1457.23,258.68 L1460.13,259.93 L1463.02,261.19 L1465.91,262.45 L1468.8,263.71 L1471.69,264.98 L1474.58,266.24 L1477.47,267.52 L1480.36,268.79 L1483.26,270.07 L1486.15,271.35 L1489.04,272.64 L1491.93,273.93 L1494.82,275.23 L1497.71,276.53 L1500.6,277.83 L1503.49,279.14 L1506.38,280.45 L1509.28,281.77 L1512.17,283.09 L1515.06,284.42 L1517.95,285.75 L1520.84,287.09 L1523.73,288.44 L1526.62,289.79 L1529.51,291.14 L1532.41,292.5 L1535.3,293.87 L1538.19,295.25 L1541.08,296.63 L1543.97,298.02 L1546.86,299.41 L1549.75,300.81 L1552.64,302.22 L1555.54,303.63 L1558.43,305.06 L1561.32,306.48 L1564.21,307.92 L1567.1,309.37 L1569.99,310.82 L1572.88,312.28 L1575.77,313.75 L1578.67,315.22 L1581.56,316.71 L1584.45,318.2 L1587.34,319.71 L1590.23,321.22 L1593.12,322.74 L1596.01,324.27 L1598.9,325.8 L1601.79,327.35 L1604.69,328.91 L1607.58,330.47 L1610.47,332.05 L1613.36,333.64 L1616.25,335.23 L1619.14,336.84 L1622.03,338.45 L1624.92,340.08 L1627.82,341.72 L1630.71,343.37 L1633.6,345.03 L1636.49,346.7 L1639.38,348.38 L1642.27,350.07 L1645.16,351.77 L1648.05,353.49 L1650.95,355.22 L1653.84,356.96 L1656.73,358.71 L1659.62,360.47 L1662.51,362.24 L1665.4,364.03 L1668.29,365.83 L1671.18,367.65 L1674.08,369.47 L1676.97,371.31 L1679.86,373.16 L1682.75,375.03 L1685.64,376.91 L1688.53,378.8 L1691.42,380.71 L1694.31,382.64 L1697.21,384.58 L1700.1,386.53 L1702.99,388.5 L1705.88,390.49 L1708.77,392.5 L1711.66,394.52 L1714.55,396.56 L1717.44,398.61 L1720.33,400.69 L1723.23,402.78 L1726.12,404.89 L1729.01,407.02 L1731.9,409.17 L1734.79,411.34 L1737.68,413.53 L1740.57,415.74 L1743.46,417.97 L1746.36,420.22 L1749.25,422.49 L1752.14,424.78 L1755.03,427.1 L1757.92,429.44 L1760.81,431.79 L1763.7,434.18 L1766.59,436.58 L1769.49,439.01 L1772.38,441.46 L1775.27,443.94 L1778.16,446.44 L1781.05,448.96 L1783.94,451.51 L1786.83,454.09 L1789.72,456.69 L1792.62,459.32 L1795.51,461.97 L1798.4,464.65 L1801.29,467.36 L1804.18,470.09 L1807.07,472.85 L1809.96,475.64 L1812.85,478.46 L1815.74,481.3 L1818.64,484.18 L1821.53,487.08 L1824.42,490.02 L1827.31,492.98 L1830.2,495.97 L1833.09,499 L1835.98,502.05 L1838.87,505.13 L1841.77,508.25 L1844.66,511.4 L1847.55,514.58 L1850.44,517.79 L1853.33,521.04 L1856.22,524.31 L1859.11,527.63 L1862,530.97 L1864.9,534.34 L1867.79,537.73 L1870.68,541.14 L1873.57,544.55 L1876.46,547.95 L1879.35,551.34 L1882.24,554.72 L1885.13,558.06 L1888.03,561.38 L1890.92,564.67 L1893.81,567.95 L1896.7,571.22 L1899.59,574.49 L1902.48,577.77 L1905.37,581.06 L1908.26,584.37 L1911.15,587.72 L1914.05,591.1 L1916.94,594.52 L1919.83,598 L1922.72,601.54 L1925.61,605.14 L1928.5,608.81 L1931.39,612.55 L1934.28,616.34 L1937.18,620.18 L1940.07,624.05 L1942.96,627.96 L1945.85,631.9 L1948.74,635.86 L1951.63,639.83 L1954.52,643.81 L1957.41,647.79 L1960.31,651.77 L1963.2,655.72 L1966.09,659.66 L1968.98,663.57 L1971.87,667.45 L1974.76,671.29 L1977.65,675.08 L1980.54,678.81 L1983.44,682.48 L1986.33,686.09 L1989.22,689.62 L1992.11,693.06 L1995,696.42" stroke="#ff0000" stroke-width="3" fill="none" stroke-dasharray="19.2 4.8 3 4.8"/>
<path d="M1235.23,123.78 L1243.43,128.36 L1251.62,132.93 L1259.82,137.51 L1268.02,142.1 L1276.21,146.68 L1284.41,151.27 L1292.6,155.86 L1300.8,160.46 L1309,165.06 L1317.19,169.66 L1325.39,174.26 L1333.59,178.87 L1341.78,183.49 L1349.98,188.11 L1358.17,192.73 L1366.37,197.36 L1374.57,202 L1382.76,206.64 L1390.96,211.29 L1399.15,215.94 L1407.35,220.61 L1415.55,225.28 L1423.74,229.96 L1431.94,234.66 L1440.13,239.36 L1448.33,244.07 L1456.53,248.8 L1464.72,253.54 L1472.92,258.29 L1481.12,263.06 L1489.31,267.85 L1497.51,272.65 L1505.7,277.47 L1513.9,282.31 L1522.1,287.17 L1530.29,292.06 L1538.49,296.97 L1546.68,301.91 L1554.88,306.78 L1563.08,311.55 L1571.27,316.35 L1579.47,321.19 L1587.66,326.06 L1595.86,330.98 L1604.06,335.94 L1612.25,340.94 L1620.45,346 L1628.65,351.11 L1636.84,356.28 L1645.04,361.51 L1653.23,366.8 L1661.43,372.17 L1669.63,377.62 L1677.82,383.15 L1686.02,388.77 L1694.21,394.48 L1702.41,400.29 L1710.61,406.22 L1718.8,412.26 L1727,418.43 L1735.19,424.74 L1743.39,431.19 L1751.59,437.8 L1759.78,444.58 L1767.98,451.53 L1776.18,458.68 L1784.37,466.04 L1792.57,473.63 L1800.76,481.45 L1808.96,489.53 L1817.16,497.88 L1825.35,506.53 L1833.55,515.51 L1841.74,524.82 L1849.94,534.5 L1858.14,544.57 L1866.33,555.07 L1874.53,566.02 L1882.72,577.45 L1882.72,585.05 L1874.53,573.62 L1866.33,562.67 L1858.14,552.17 L1849.94,542.1 L1841.74,532.42 L1833.55,523.11 L1825.35,514.13 L1817.16,505.48 L1808.96,497.13 L1800.76,489.05 L1792.57,481.23 L1784.37,473.64 L1776.18,466.28 L1767.98,459.13 L1759.78,452.18 L1751.59,445.4 L1743.39,438.79 L1735.19,432.34 L1727,426.03 L1718.8,419.86 L1710.61,413.82 L1702.41,407.89 L1694.21,402.08 L1686.02,396.37 L1677.82,390.75 L1669.63,385.22 L1661.43,379.77 L1653.23,374.4 L1645.04,369.11 L1636.84,363.88 L1628.65,358.71 L1620.45,353.6 L1612.25,348.54 L1604.06,343.54 L1595.86,338.58 L1587.66,333.66 L1579.47,328.79 L1571.27,323.95 L1563.08,319.15 L1554.88,314.38 L1546.68,309.78 L1538.49,305.3 L1530.29,300.85 L1522.1,296.42 L1513.9,292.01 L1505.7,287.63 L1497.51,283.26 L1489.31,278.92 L1481.12,274.59 L1472.92,270.27 L1464.72,265.98 L1456.53,261.69 L1448.33,257.42 L1440.13,253.16 L1431.94,248.92 L1423.74,244.68 L1415.55,240.45 L1407.35,236.24 L1399.15,232.03 L1390.96,227.83 L1382.76,223.63 L1374.57,219.45 L1366.37,215.27 L1358.17,211.09 L1349.98,206.92 L1341.78,202.76 L1333.59,198.6 L1325.39,194.45 L1317.19,190.3 L1309,186.15 L1300.8,182.01 L1292.6,177.87 L1284.41,173.74 L1276.21,169.6 L1268.02,165.47 L1259.82,161.35 L1251.62,157.22 L1243.43,153.1 L1235.23,148.98 Z" fill="#bfbfbf"/>
<path d="M1136,83.85 L1140.01,85.97 L1144.02,88.09 L1148.03,90.21 L1152.04,92.33 L1156.05,94.45 L1160.07,96.57 L1164.08,98.7 L1168.09,100.82 L1172.1,102.94 L1176.11,105.06 L1180.12,107.18 L1184.13,109.31 L1188.14,111.43 L1192.15,113.55 L1196.16,115.68 L1200.18,117.8 L1204.19,119.92 L1208.2,122.05 L1212.21,124.17 L1216.22,126.3 L1220.23,128.42 L1224.24,130.55 L1228.25,132.68 L1232.26,134.8 L1236.27,136.93 L1240.29,139.06 L1244.3,141.19 L1248.31,143.32 L1252.32,145.45 L1256.33,147.58 L1260.34,149.71 L1264.35,151.84 L1268.36,153.97 L1272.37,156.1 L1276.38,158.24 L1280.4,160.37 L1284.41,162.5 L1288.42,164.64 L1292.43,166.77 L1296.44,168.91 L1300.45,171.05 L1304.46,173.19 L1308.47,175.32 L1312.48,177.46 L1316.49,179.61 L1320.5,181.75 L1324.52,183.89 L1328.53,186.03 L1332.54,188.18 L1336.55,190.32 L1340.56,192.47 L1344.57,194.62 L1348.58,196.77 L1352.59,198.92 L1356.6,201.07 L1360.61,203.22 L1364.63,205.38 L1368.64,207.53 L1372.65,209.69 L1376.66,211.85 L1380.67,214.01 L1384.68,216.17 L1388.69,218.33 L1392.7,220.5 L1396.71,222.67 L1400.72,224.84 L1404.74,227.01 L1408.75,229.18 L1412.76,231.35 L1416.77,233.53 L1420.78,235.71 L1424.79,237.89 L1428.8,240.08 L1432.81,242.26 L1436.82,244.45 L1440.83,246.64 L1444.85,248.84 L1448.86,251.04 L1452.87,253.24 L1456.88,255.44 L1460.89,257.65 L1464.9,259.86 L1468.91,262.07 L1472.92,264.29 L1476.93,266.51 L1480.94,268.73 L1484.96,270.96 L1488.97,273.19 L1492.98,275.42 L1496.99,277.67 L1501,279.91 L1505.01,282.16 L1509.02,284.41 L1513.03,286.67 L1517.04,288.94 L1521.05,291.21 L1525.06,293.48 L1529.08,295.76 L1533.09,298.05 L1537.1,300.34 L1541.11,302.64 L1545.12,304.94 L1549.13,307.26 L1553.14,309.57 L1557.15,311.9 L1561.16,314.23 L1565.17,316.58 L1569.19,318.93 L1573.2,321.28 L1577.21,323.65 L1581.22,326.03 L1585.23,328.41 L1589.24,330.8 L1593.25,333.21 L1597.26,335.62 L1601.27,338.05 L1605.28,340.48 L1609.3,342.93 L1613.31,345.39 L1617.32,347.86 L1621.33,350.34 L1625.34,352.84 L1629.35,355.35 L1633.36,357.87 L1637.37,360.41 L1641.38,362.97 L1645.39,365.54 L1649.41,368.12 L1653.42,370.72 L1657.43,373.34 L1661.44,375.98 L1665.45,378.63 L1669.46,381.31 L1673.47,384 L1677.48,386.72 L1681.49,389.45 L1685.5,392.21 L1689.51,394.99 L1693.53,397.79 L1697.54,400.62 L1701.55,403.48 L1705.56,406.36 L1709.57,409.26 L1713.58,412.2 L1717.59,415.16 L1721.6,418.16 L1725.61,421.18 L1729.62,424.24 L1733.64,427.33 L1737.65,430.45 L1741.66,433.61 L1745.67,436.81 L1749.68,440.05 L1753.69,443.32 L1757.7,446.64 L1761.71,450 L1765.72,453.4 L1769.73,456.85 L1773.75,460.34 L1777.76,463.89 L1781.77,467.48 L1785.78,471.13 L1789.79,474.83 L1793.8,478.59 L1797.81,482.4 L1801.82,486.28 L1805.83,490.21 L1809.84,494.21 L1813.86,498.28 L1817.87,502.42 L1821.88,506.63 L1825.89,510.91 L1829.9,515.27 L1833.91,519.71 L1837.92,524.23 L1841.93,528.84 L1845.94,533.53 L1849.95,538.31 L1853.96,543.19 L1857.98,548.17 L1861.99,553.25 L1866,558.43 L1870.01,563.72 L1874.02,569.12 L1878.03,574.64 L1882.04,580.28 L1886.05,586.05 L1890.06,591.94 L1894.07,597.97 L1898.09,604.13 L1902.1,610.44 L1906.11,616.89 L1910.12,623.5 L1914.13,630.27 L1918.14,637.2 L1922.15,644.3 L1926.16,651.58 L1930.17,659.04 L1934.18,666.69 L1938.2,674.54 L1942.21,682.58 L1946.22,690.84 L1950.23,699.31 L1954.24,708.01" stroke="#000" stroke-width="5" fill="none"/>
<path d="M1216,141.3 L1285.7,141.3" stroke="#000" stroke-width="1.8"/><path d="M1251.4,111.6 L1251.4,243.1" stroke="#000" stroke-width="1.8"/><path d="M1216,134.3 L1216,148.3 M1285.7,134.3 L1285.7,148.3 M1244.4,111.6 L1258.4,111.6 M1244.4,243.1 L1258.4,243.1" stroke="#000" stroke-width="3.2"/><path d="M1285.5,181.4 L1355.3,181.4" stroke="#000" stroke-width="1.8"/><path d="M1320.1,135 L1320.1,690" stroke="#000" stroke-width="1.8"/><path d="M1285.5,174.4 L1285.5,188.4 M1355.3,174.4 L1355.3,188.4 M1313.1,135 L1327.1,135" stroke="#000" stroke-width="3.2"/><path d="M1355,221.6 L1424,221.6" stroke="#000" stroke-width="1.8"/><path d="M1389.1,198 L1389.1,273" stroke="#000" stroke-width="1.8"/><path d="M1355,214.6 L1355,228.6 M1424,214.6 L1424,228.6 M1382.1,198 L1396.1,198 M1382.1,273 L1396.1,273" stroke="#000" stroke-width="3.2"/><path d="M1424,249.1 L1492.8,249.1" stroke="#000" stroke-width="1.8"/><path d="M1458.9,213.3 L1458.9,690" stroke="#000" stroke-width="1.8"/><path d="M1424,242.1 L1424,256.1 M1492.8,242.1 L1492.8,256.1 M1451.9,213.3 L1465.9,213.3" stroke="#000" stroke-width="3.2"/><path d="M1492.8,293.6 L1562.3,293.6" stroke="#000" stroke-width="1.8"/><path d="M1527.8,271.7 L1527.8,329.7" stroke="#000" stroke-width="1.8"/><path d="M1492.8,286.6 L1492.8,300.6 M1562.3,286.6 L1562.3,300.6 M1520.8,271.7 L1534.8,271.7 M1520.8,329.7 L1534.8,329.7" stroke="#000" stroke-width="3.2"/><path d="M1561.8,343 L1631.3,343" stroke="#000" stroke-width="1.8"/><path d="M1597,329.5 L1597,360.2" stroke="#000" stroke-width="1.8"/><path d="M1561.8,336 L1561.8,350 M1631.3,336 L1631.3,350 M1590,329.5 L1604,329.5 M1590,360.2 L1604,360.2" stroke="#000" stroke-width="3.2"/><path d="M1631.3,385.7 L1700.8,385.7" stroke="#000" stroke-width="1.8"/><path d="M1665.8,372 L1665.8,399" stroke="#000" stroke-width="1.8"/><path d="M1631.3,378.7 L1631.3,392.7 M1700.8,378.7 L1700.8,392.7 M1658.8,372 L1672.8,372 M1658.8,399 L1672.8,399" stroke="#000" stroke-width="3.2"/><path d="M1700.8,427.8 L1770,427.8" stroke="#000" stroke-width="1.8"/><path d="M1735.7,414 L1735.7,441" stroke="#000" stroke-width="1.8"/><path d="M1700.8,420.8 L1700.8,434.8 M1770,420.8 L1770,434.8 M1728.7,414 L1742.7,414 M1728.7,441 L1742.7,441" stroke="#000" stroke-width="3.2"/><path d="M1769.8,494.5 L1839.4,494.5" stroke="#000" stroke-width="1.8"/><path d="M1805.1,478 L1805.1,511.5" stroke="#000" stroke-width="1.8"/><path d="M1769.8,487.5 L1769.8,501.5 M1839.4,487.5 L1839.4,501.5 M1798.1,478 L1812.1,478 M1798.1,511.5 L1812.1,511.5" stroke="#000" stroke-width="3.2"/><path d="M1839.4,564.3 L1908.6,564.3" stroke="#000" stroke-width="1.8"/><path d="M1873.9,533.3 L1873.9,625.8" stroke="#000" stroke-width="1.8"/><path d="M1839.4,557.3 L1839.4,571.3 M1908.6,557.3 L1908.6,571.3 M1866.9,533.3 L1880.9,533.3 M1866.9,625.8 L1880.9,625.8" stroke="#000" stroke-width="3.2"/><circle cx="1251.4" cy="141.3" r="11.8" fill="#000"/><circle cx="1320.1" cy="181.4" r="11.8" fill="#000"/><circle cx="1389.1" cy="221.6" r="11.8" fill="#000"/><circle cx="1458.9" cy="249.1" r="11.8" fill="#000"/><circle cx="1527.8" cy="293.6" r="11.8" fill="#000"/><circle cx="1597" cy="343" r="11.8" fill="#000"/><circle cx="1665.8" cy="385.7" r="11.8" fill="#000"/><circle cx="1735.7" cy="427.8" r="11.8" fill="#000"/><circle cx="1805.1" cy="494.5" r="11.8" fill="#000"/><circle cx="1873.9" cy="564.3" r="11.8" fill="#000"/>
</g>
<rect x="129.95" y="0" width="898.6" height="0.6" fill="#000"/><path d="M130.5,0 L130.5,686.15 M129.95,686.15 L1028.5,686.15 M1028,0 L1028,686.15" stroke="#1a1a1a" stroke-width="1.1" fill="none"/><path d="M130.5,686.15 L130.5,678.95 M212.38,686.15 L212.38,678.95 M484.38,686.15 L484.38,678.95 M756.38,686.15 L756.38,678.95 M1028.38,686.15 L1028.38,678.95" stroke="#000" stroke-width="1.9"/><path d="M152.04,686.15 L152.04,682.75 M170.25,686.15 L170.25,682.75 M186.02,686.15 L186.02,682.75 M199.93,686.15 L199.93,682.75 M294.26,686.15 L294.26,682.75 M342.16,686.15 L342.16,682.75 M376.14,686.15 L376.14,682.75 M402.5,686.15 L402.5,682.75 M424.04,686.15 L424.04,682.75 M442.25,686.15 L442.25,682.75 M458.02,686.15 L458.02,682.75 M471.93,686.15 L471.93,682.75 M566.26,686.15 L566.26,682.75 M614.16,686.15 L614.16,682.75 M648.14,686.15 L648.14,682.75 M674.5,686.15 L674.5,682.75 M696.04,686.15 L696.04,682.75 M714.25,686.15 L714.25,682.75 M730.02,686.15 L730.02,682.75 M743.93,686.15 L743.93,682.75 M838.26,686.15 L838.26,682.75 M886.16,686.15 L886.16,682.75 M920.14,686.15 L920.14,682.75 M946.5,686.15 L946.5,682.75 M968.04,686.15 L968.04,682.75 M986.25,686.15 L986.25,682.75 M1002.02,686.15 L1002.02,682.75 M1015.93,686.15 L1015.93,682.75" stroke="#000" stroke-width="1.2"/><path d="M130.5,686.42 L137.3,686.42 M130.5,534.06 L137.3,534.06 M130.5,381.7 L137.3,381.7 M130.5,229.34 L137.3,229.34 M130.5,76.98 L137.3,76.98" stroke="#000" stroke-width="1.9"/>
<rect x="1135.45" y="0" width="879.5" height="0.6" fill="#000"/><path d="M1136,0 L1136,686.15 M1135.45,686.15 L2014.9,686.15 M2014.4,0 L2014.4,686.15" stroke="#1a1a1a" stroke-width="1.1" fill="none"/><path d="M1136,686.15 L1136,678.95 M1216.1,686.15 L1216.1,678.95 M1482.2,686.15 L1482.2,678.95 M1748.3,686.15 L1748.3,678.95 M2014.4,686.15 L2014.4,678.95" stroke="#000" stroke-width="1.9"/><path d="M1157.07,686.15 L1157.07,682.75 M1174.88,686.15 L1174.88,682.75 M1190.32,686.15 L1190.32,682.75 M1203.93,686.15 L1203.93,682.75 M1296.21,686.15 L1296.21,682.75 M1343.07,686.15 L1343.07,682.75 M1376.31,686.15 L1376.31,682.75 M1402.1,686.15 L1402.1,682.75 M1423.17,686.15 L1423.17,682.75 M1440.98,686.15 L1440.98,682.75 M1456.42,686.15 L1456.42,682.75 M1470.03,686.15 L1470.03,682.75 M1562.31,686.15 L1562.31,682.75 M1609.17,686.15 L1609.17,682.75 M1642.41,686.15 L1642.41,682.75 M1668.2,686.15 L1668.2,682.75 M1689.27,686.15 L1689.27,682.75 M1707.08,686.15 L1707.08,682.75 M1722.52,686.15 L1722.52,682.75 M1736.13,686.15 L1736.13,682.75 M1828.41,686.15 L1828.41,682.75 M1875.27,686.15 L1875.27,682.75 M1908.51,686.15 L1908.51,682.75 M1934.3,686.15 L1934.3,682.75 M1955.37,686.15 L1955.37,682.75 M1973.18,686.15 L1973.18,682.75 M1988.62,686.15 L1988.62,682.75 M2002.23,686.15 L2002.23,682.75" stroke="#000" stroke-width="1.2"/><path d="M1136,686.42 L1142.8,686.42 M1136,534.06 L1142.8,534.06 M1136,381.7 L1142.8,381.7 M1136,229.34 L1142.8,229.34 M1136,76.98 L1142.8,76.98" stroke="#000" stroke-width="1.9"/>
<text x="130.5" y="717.5" font-size="36" text-anchor="middle">0.05</text>
<text transform="translate(1136,717.5) scale(0.9783,1)" font-size="36" text-anchor="middle">0.05</text>
<text x="212.38" y="717.5" font-size="36" text-anchor="middle">0.1</text>
<text transform="translate(1216.1,717.5) scale(0.9783,1)" font-size="36" text-anchor="middle">0.1</text>
<text x="484.38" y="717.5" font-size="36" text-anchor="middle">1</text>
<text transform="translate(1482.2,717.5) scale(0.9783,1)" font-size="36" text-anchor="middle">1</text>
<text x="756.38" y="717.5" font-size="36" text-anchor="middle">10</text>
<text transform="translate(1748.3,717.5) scale(0.9783,1)" font-size="36" text-anchor="middle">10</text>
<text x="1028.38" y="717.5" font-size="36" text-anchor="middle">100</text>
<text transform="translate(2014.4,717.5) scale(0.9783,1)" font-size="36" text-anchor="middle">100</text>
<text x="67.3" y="91.28" font-size="36">10</text><text x="112.6" y="77.68" font-size="25.2">7</text>
<text x="67.3" y="243.64" font-size="36">10</text><text x="112.6" y="230.04" font-size="25.2">5</text>
<text x="67.3" y="396" font-size="36">10</text><text x="112.6" y="382.4" font-size="25.2">3</text>
<text x="67.3" y="548.36" font-size="36">10</text><text x="112.6" y="534.76" font-size="25.2">1</text>
<text x="46.3" y="700.72" font-size="36">10</text><text x="91.6" y="687.12" font-size="25.2">&#8722;1</text>
<text x="492.1" y="759.8" font-size="36">S</text><text x="515.3" y="765.2" font-size="25.2">450</text><text x="574.2" y="759.8" font-size="36">[mJy]</text>
<text transform="translate(1491.3,759.8) scale(0.9783,1)" font-size="36">S</text><text transform="translate(1513.2,765.2) scale(0.9783,1)" font-size="25.2">450</text><text transform="translate(1570.22,759.8) scale(0.9783,1)" font-size="36">[mJy]</text>
<g transform="rotate(-90)"><text x="-563" y="33.5" font-size="37">dN/dS [mJy</text><text x="-358.7" y="18.8" font-size="25.9">&#8722;1</text><text x="-306.4" y="33.5" font-size="37">degree</text><text x="-176.5" y="18.8" font-size="25.9">&#8722;2</text><text x="-138.6" y="33.5" font-size="37">]</text></g>
<rect x="140.5" y="363.6" width="185.2" height="312.7" rx="4" ry="4" fill="#fff" fill-opacity="0.8" stroke="#cccccc" stroke-opacity="0.8" stroke-width="1.1"/>
<path d="M158.2,379.9 L178.6,379.9" stroke="#0000ff" stroke-width="1.7"/><path d="M168.4,369.2 L168.4,390.6" stroke="#0000ff" stroke-width="1.7"/><path d="M158.2,372.9 L158.2,386.9 M178.6,372.9 L178.6,386.9 M161.4,369.2 L175.4,369.2 M161.4,390.6 L175.4,390.6" stroke="#0000ff" stroke-width="2.7"/><circle cx="168.4" cy="379.9" r="6.2" stroke="#0000ff" stroke-width="3" fill="none"/>
<text x="204.1" y="386.9" font-size="20">RXJ1347</text>
<path d="M158.2,410.52 L178.6,410.52" stroke="#ffa500" stroke-width="1.7"/><path d="M168.4,399.82 L168.4,421.22" stroke="#ffa500" stroke-width="1.7"/><path d="M158.2,403.52 L158.2,417.52 M178.6,403.52 L178.6,417.52 M161.4,399.82 L175.4,399.82 M161.4,421.22 L175.4,421.22" stroke="#ffa500" stroke-width="2.7"/><rect x="162.6" y="404.72" width="11.6" height="11.6" stroke="#ffa500" stroke-width="3" fill="none"/>
<text x="204.1" y="417.52" font-size="20">A2390</text>
<path d="M158.2,441.14 L178.6,441.14" stroke="#008000" stroke-width="1.7"/><path d="M168.4,430.44 L168.4,451.84" stroke="#008000" stroke-width="1.7"/><path d="M158.2,434.14 L158.2,448.14 M178.6,434.14 L178.6,448.14 M161.4,430.44 L175.4,430.44 M161.4,451.84 L175.4,451.84" stroke="#008000" stroke-width="2.7"/><path d="M168.4,434.94 L173.77,438.04 L173.77,444.24 L168.4,447.34 L163.03,444.24 L163.03,438.04 Z" stroke="#008000" stroke-width="3" fill="none" stroke-miterlimit="10"/>
<text x="204.1" y="448.14" font-size="20">A2744</text>
<path d="M158.2,471.76 L178.6,471.76" stroke="#ff0000" stroke-width="1.7"/><path d="M168.4,461.06 L168.4,482.46" stroke="#ff0000" stroke-width="1.7"/><path d="M158.2,464.76 L158.2,478.76 M178.6,464.76 L178.6,478.76 M161.4,461.06 L175.4,461.06 M161.4,482.46 L175.4,482.46" stroke="#ff0000" stroke-width="2.7"/><circle cx="168.4" cy="471.76" r="6.2" stroke="#ff0000" stroke-width="3" fill="none"/>
<text x="204.1" y="478.76" font-size="20">MACSJ2129</text>
<path d="M158.2,502.38 L178.6,502.38" stroke="#8a2be2" stroke-width="1.7"/><path d="M168.4,491.68 L168.4,513.08" stroke="#8a2be2" stroke-width="1.7"/><path d="M158.2,495.38 L158.2,509.38 M178.6,495.38 L178.6,509.38 M161.4,491.68 L175.4,491.68 M161.4,513.08 L175.4,513.08" stroke="#8a2be2" stroke-width="2.7"/><path d="M168.4,495.88 L174.58,500.37 L172.22,507.64 L164.58,507.64 L162.22,500.37 Z" stroke="#8a2be2" stroke-width="3" fill="none" stroke-miterlimit="10"/>
<text x="204.1" y="509.38" font-size="20">MACSJ1423</text>
<path d="M158.2,533 L178.6,533" stroke="#a52a2a" stroke-width="1.7"/><path d="M168.4,522.3 L168.4,543.7" stroke="#a52a2a" stroke-width="1.7"/><path d="M158.2,526 L158.2,540 M178.6,526 L178.6,540 M161.4,522.3 L175.4,522.3 M161.4,543.7 L175.4,543.7" stroke="#a52a2a" stroke-width="2.7"/><path d="M168.4,539.6 L161.8,526.4 L175,526.4 Z" stroke="#a52a2a" stroke-width="3" fill="none" stroke-miterlimit="10"/>
<text x="204.1" y="540" font-size="20">A1689</text>
<path d="M158.2,563.62 L178.6,563.62" stroke="#ff4500" stroke-width="1.7"/><path d="M168.4,552.92 L168.4,574.32" stroke="#ff4500" stroke-width="1.7"/><path d="M158.2,556.62 L158.2,570.62 M178.6,556.62 L178.6,570.62 M161.4,552.92 L175.4,552.92 M161.4,574.32 L175.4,574.32" stroke="#ff4500" stroke-width="2.7"/><path d="M168.4,556.37 L170.03,561.38 L175.3,561.38 L171.03,564.48 L172.66,569.49 L168.4,566.39 L164.14,569.49 L165.77,564.48 L161.5,561.38 L166.77,561.38 Z" stroke="#ff4500" stroke-width="1" fill="#ff4500" stroke-miterlimit="10"/>
<text x="204.1" y="570.62" font-size="20">MACSJ0416</text>
<path d="M158.2,594.24 L178.6,594.24" stroke="#808000" stroke-width="1.7"/><path d="M168.4,583.54 L168.4,604.94" stroke="#808000" stroke-width="1.7"/><path d="M158.2,587.24 L158.2,601.24 M178.6,587.24 L178.6,601.24 M161.4,583.54 L175.4,583.54 M161.4,604.94 L175.4,604.94" stroke="#808000" stroke-width="2.7"/><path d="M162.6,588.44 L174.2,600.04 M162.6,600.04 L174.2,588.44" stroke="#808000" stroke-width="3.3" fill="none"/>
<text x="204.1" y="601.24" font-size="20">A370</text>
<path d="M158.2,624.86 L178.6,624.86" stroke="#00ffff" stroke-width="1.7"/><path d="M168.4,614.16 L168.4,635.56" stroke="#00ffff" stroke-width="1.7"/><path d="M158.2,617.86 L158.2,631.86 M178.6,617.86 L178.6,631.86 M161.4,614.16 L175.4,614.16 M161.4,635.56 L175.4,635.56" stroke="#00ffff" stroke-width="2.7"/><path d="M168.4,615.95 L173.74,624.86 L168.4,633.77 L163.06,624.86 Z" stroke="#00ffff" stroke-width="3" fill="none" stroke-miterlimit="10"/>
<text x="204.1" y="631.86" font-size="20">MACSJ0717</text>
<path d="M158.2,655.48 L178.6,655.48" stroke="#008080" stroke-width="1.7"/><path d="M168.4,644.78 L168.4,666.18" stroke="#008080" stroke-width="1.7"/><path d="M158.2,648.48 L158.2,662.48 M178.6,648.48 L178.6,662.48 M161.4,644.78 L175.4,644.78 M161.4,666.18 L175.4,666.18" stroke="#008080" stroke-width="2.7"/><path d="M168.4,647.28 L176.6,655.48 L168.4,663.68 L160.2,655.48 Z" stroke="#008080" stroke-width="3" fill="none" stroke-miterlimit="10"/>
<text x="204.1" y="662.48" font-size="20">MACSJ1149</text>
<rect x="1145.7" y="363.7" width="417.5" height="312.6" rx="4" ry="4" fill="#fff" fill-opacity="0.8" stroke="#cccccc" stroke-opacity="0.8" stroke-width="1.1"/>
<circle cx="1173.5" cy="379.9" r="11.6" fill="#000"/><path d="M1166.5,369 L1180.5,369 M1166.5,390.8 L1180.5,390.8 M1162.9,372.9 L1162.9,386.9 M1184.1,372.9 L1184.1,386.9" stroke="#000" stroke-width="3.2"/>
<text transform="translate(1209.6,387.5) scale(0.9783,1)" font-size="20.1">This work (Combined)</text>
<path d="M1173.5,398.52 L1173.5,422.52" stroke="#808080" stroke-width="1.5"/><path d="M1173.5,398.52 L1173.5,398.52 M1173.5,422.52 L1173.5,422.52" stroke="#808080" stroke-width="0"/><path d="M1184.5,410.52 L1162.5,399.52 L1162.5,421.52 Z" stroke="#808080" stroke-width="2.6" fill="none" stroke-miterlimit="10"/>
<text transform="translate(1209.6,418.12) scale(0.9783,1)" font-size="20.1">Chen+2013b (Combined)</text>
<path d="M1173.5,429.14 L1173.5,453.14" stroke="#808080" stroke-width="1.5"/><path d="M1173.5,429.14 L1173.5,429.14 M1173.5,453.14 L1173.5,453.14" stroke="#808080" stroke-width="0"/><path d="M1161.5,429.14 L1185.5,453.14 M1161.5,453.14 L1185.5,429.14" stroke="#808080" stroke-width="5" fill="none"/>
<text transform="translate(1209.6,448.74) scale(0.9783,1)" font-size="20.1">Hsu+2016 (Combined)</text>
<path d="M1173.5,459.76 L1173.5,483.76" stroke="#808080" stroke-width="1.5"/><path d="M1173.5,459.76 L1173.5,459.76 M1173.5,483.76 L1173.5,483.76" stroke="#808080" stroke-width="0"/><path d="M1173.5,461.76 L1182.16,466.76 L1182.16,476.76 L1173.5,481.76 L1164.84,476.76 L1164.84,466.76 Z" stroke="#808080" stroke-width="3" fill="none" stroke-miterlimit="10"/>
<text transform="translate(1209.6,479.36) scale(0.9783,1)" font-size="20.1">Wang+2017 (COSMOS)</text>
<path d="M1173.5,490.38 L1173.5,514.38" stroke="#808080" stroke-width="1.5"/><path d="M1173.5,490.38 L1173.5,490.38 M1173.5,514.38 L1173.5,514.38" stroke="#808080" stroke-width="0"/><path d="M1162.5,502.38 L1184.5,491.38 L1184.5,513.38 Z" stroke="#808080" stroke-width="3" fill="none" stroke-miterlimit="10"/>
<text transform="translate(1209.6,509.98) scale(0.9783,1)" font-size="20.1">Zavala+2017 (EGS)</text>
<path d="M1173.5,521 L1173.5,545" stroke="#808080" stroke-width="1.5"/><path d="M1173.5,521 L1173.5,521 M1173.5,545 L1173.5,545" stroke="#808080" stroke-width="0"/><path d="M1173.5,521.5 L1176.08,529.45 L1184.44,529.45 L1177.68,534.36 L1180.26,542.3 L1173.5,537.39 L1166.74,542.3 L1169.32,534.36 L1162.56,529.45 L1170.92,529.45 Z" stroke="#808080" stroke-width="2.8" fill="none" stroke-miterlimit="10"/>
<text transform="translate(1209.6,540.6) scale(0.9783,1)" font-size="20.1">Wang+2019 (de-blended Herschel)</text>
<path d="M1173.5,551.62 L1173.5,575.62" stroke="#808080" stroke-width="1.5"/><path d="M1173.5,551.62 L1173.5,551.62 M1173.5,575.62 L1173.5,575.62" stroke="#808080" stroke-width="0"/><path d="M1173.5,551.25 L1185.87,563.62 L1173.5,575.99 L1161.13,563.62 Z" stroke="#808080" stroke-width="5" fill="none" stroke-miterlimit="10"/>
<text transform="translate(1209.6,571.22) scale(0.9783,1)" font-size="20.1">Gao in prep. (blank field)</text>
<path d="M1153,594.24 L1193.7,594.24" stroke="#ff0000" stroke-width="3" stroke-dasharray="19.2 4.8 3 4.8"/>
<text transform="translate(1209.6,601.84) scale(0.9783,1)" font-size="20.1">B&#233;thermin+2017 (SIDES)</text>
<path d="M1153,624.86 L1193.7,624.86" stroke="#008000" stroke-width="6" stroke-dasharray="6 9.9"/>
<text transform="translate(1209.6,632.46) scale(0.9783,1)" font-size="20.1">Cowley+2019 (GALFORM)</text>
<path d="M1153,655.48 L1193.7,655.48" stroke="#00ffff" stroke-width="4.6" stroke-dasharray="15.4 6.3"/>
<text transform="translate(1209.6,663.08) scale(0.9783,1)" font-size="20.1">Lagos+2020 (SHARK)</text>
</svg>
</body></html>
